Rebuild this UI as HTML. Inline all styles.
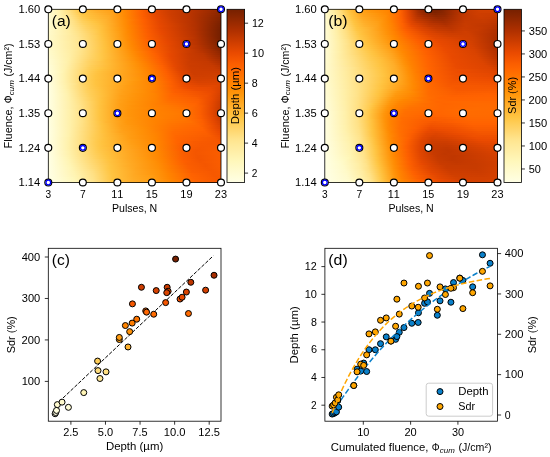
<!DOCTYPE html>
<html><head><meta charset="utf-8"><style>
html,body{margin:0;padding:0;background:#fff;}
svg{display:block;filter:blur(0.35px);}
text{font-family:"Liberation Sans",sans-serif;font-kerning:none;}
</style></head><body>
<svg width="550" height="457" viewBox="0 0 550 457">
<defs><linearGradient id="g1" gradientUnits="userSpaceOnUse" x1="48.30" x2="221.00" y1="0" y2="0"><stop offset="0.000" stop-color="#fffdd7"/><stop offset="0.069" stop-color="#ffefa8"/><stop offset="0.121" stop-color="#ffdd7d"/><stop offset="0.185" stop-color="#ffc441"/><stop offset="0.272" stop-color="#ffad28"/><stop offset="0.376" stop-color="#ff9e14"/><stop offset="0.457" stop-color="#ff8200"/><stop offset="0.538" stop-color="#fe6100"/><stop offset="0.613" stop-color="#e44800"/><stop offset="0.711" stop-color="#cb3c00"/><stop offset="0.855" stop-color="#b23100"/><stop offset="1.000" stop-color="#902700"/></linearGradient>
<linearGradient id="g2" gradientUnits="userSpaceOnUse" x1="48.30" x2="221.00" y1="0" y2="0"><stop offset="0.000" stop-color="#fffcd6"/><stop offset="0.064" stop-color="#fff2ae"/><stop offset="0.116" stop-color="#ffe288"/><stop offset="0.191" stop-color="#ffc542"/><stop offset="0.289" stop-color="#ffae29"/><stop offset="0.370" stop-color="#ffa21a"/><stop offset="0.439" stop-color="#ff8a02"/><stop offset="0.538" stop-color="#fe6100"/><stop offset="0.618" stop-color="#e44800"/><stop offset="0.694" stop-color="#cf3e00"/><stop offset="0.844" stop-color="#b43200"/><stop offset="1.000" stop-color="#8d2600"/></linearGradient>
<linearGradient id="g3" gradientUnits="userSpaceOnUse" x1="48.30" x2="221.00" y1="0" y2="0"><stop offset="0.000" stop-color="#fffcd6"/><stop offset="0.069" stop-color="#fff1ac"/><stop offset="0.127" stop-color="#ffdf82"/><stop offset="0.202" stop-color="#ffc542"/><stop offset="0.306" stop-color="#ffaf2b"/><stop offset="0.370" stop-color="#ffa31c"/><stop offset="0.428" stop-color="#ff8f06"/><stop offset="0.474" stop-color="#ff7c00"/><stop offset="0.543" stop-color="#fd5f00"/><stop offset="0.624" stop-color="#e44800"/><stop offset="0.705" stop-color="#cd3d00"/><stop offset="0.827" stop-color="#b73300"/><stop offset="1.000" stop-color="#892500"/></linearGradient>
<linearGradient id="g4" gradientUnits="userSpaceOnUse" x1="48.30" x2="221.00" y1="0" y2="0"><stop offset="0.000" stop-color="#fffcd5"/><stop offset="0.075" stop-color="#fff0ab"/><stop offset="0.127" stop-color="#ffe288"/><stop offset="0.197" stop-color="#ffc94c"/><stop offset="0.225" stop-color="#ffc23f"/><stop offset="0.353" stop-color="#ffaa24"/><stop offset="0.439" stop-color="#ff8b03"/><stop offset="0.549" stop-color="#fb5e00"/><stop offset="0.624" stop-color="#e64800"/><stop offset="0.711" stop-color="#cd3d00"/><stop offset="0.827" stop-color="#b73300"/><stop offset="1.000" stop-color="#852400"/></linearGradient>
<linearGradient id="g5" gradientUnits="userSpaceOnUse" x1="48.30" x2="221.00" y1="0" y2="0"><stop offset="0.000" stop-color="#fffcd4"/><stop offset="0.075" stop-color="#fff2ae"/><stop offset="0.133" stop-color="#ffe288"/><stop offset="0.197" stop-color="#ffcc53"/><stop offset="0.237" stop-color="#ffc23f"/><stop offset="0.347" stop-color="#ffad28"/><stop offset="0.422" stop-color="#ff9309"/><stop offset="0.462" stop-color="#ff8200"/><stop offset="0.549" stop-color="#fd5f00"/><stop offset="0.630" stop-color="#e64800"/><stop offset="0.717" stop-color="#cd3d00"/><stop offset="0.827" stop-color="#b73300"/><stop offset="1.000" stop-color="#812300"/></linearGradient>
<linearGradient id="g6" gradientUnits="userSpaceOnUse" x1="48.30" x2="221.00" y1="0" y2="0"><stop offset="0.000" stop-color="#fffcd4"/><stop offset="0.087" stop-color="#ffefa8"/><stop offset="0.139" stop-color="#ffe288"/><stop offset="0.202" stop-color="#ffcd56"/><stop offset="0.249" stop-color="#ffc441"/><stop offset="0.335" stop-color="#ffb22e"/><stop offset="0.445" stop-color="#ff8b03"/><stop offset="0.549" stop-color="#fe6100"/><stop offset="0.630" stop-color="#e84900"/><stop offset="0.723" stop-color="#cd3d00"/><stop offset="0.821" stop-color="#b93400"/><stop offset="1.000" stop-color="#7f2300"/></linearGradient>
<linearGradient id="g7" gradientUnits="userSpaceOnUse" x1="48.30" x2="221.00" y1="0" y2="0"><stop offset="0.000" stop-color="#fffcd2"/><stop offset="0.087" stop-color="#fff0ab"/><stop offset="0.150" stop-color="#ffe084"/><stop offset="0.197" stop-color="#ffd15f"/><stop offset="0.266" stop-color="#ffc542"/><stop offset="0.347" stop-color="#ffaf2b"/><stop offset="0.439" stop-color="#ff8e05"/><stop offset="0.486" stop-color="#ff7900"/><stop offset="0.555" stop-color="#fd5f00"/><stop offset="0.642" stop-color="#e44800"/><stop offset="0.746" stop-color="#c93b00"/><stop offset="0.838" stop-color="#b53200"/><stop offset="1.000" stop-color="#7c2100"/></linearGradient>
<linearGradient id="g8" gradientUnits="userSpaceOnUse" x1="48.30" x2="221.00" y1="0" y2="0"><stop offset="0.000" stop-color="#fffbd1"/><stop offset="0.098" stop-color="#ffefa7"/><stop offset="0.162" stop-color="#ffde7f"/><stop offset="0.208" stop-color="#ffd15f"/><stop offset="0.283" stop-color="#ffc441"/><stop offset="0.370" stop-color="#ffa923"/><stop offset="0.439" stop-color="#ff8e05"/><stop offset="0.486" stop-color="#ff7a00"/><stop offset="0.561" stop-color="#fb5e00"/><stop offset="0.642" stop-color="#e64800"/><stop offset="0.763" stop-color="#c73b00"/><stop offset="0.850" stop-color="#b23100"/><stop offset="0.988" stop-color="#7d2200"/><stop offset="1.000" stop-color="#7a2100"/></linearGradient>
<linearGradient id="g9" gradientUnits="userSpaceOnUse" x1="48.30" x2="221.00" y1="0" y2="0"><stop offset="0.000" stop-color="#fffbd0"/><stop offset="0.110" stop-color="#ffeda2"/><stop offset="0.168" stop-color="#ffde7f"/><stop offset="0.220" stop-color="#ffd15f"/><stop offset="0.306" stop-color="#ffc03c"/><stop offset="0.457" stop-color="#ff8800"/><stop offset="0.561" stop-color="#fd5f00"/><stop offset="0.642" stop-color="#e84900"/><stop offset="0.769" stop-color="#c73b00"/><stop offset="0.861" stop-color="#ae3000"/><stop offset="0.983" stop-color="#7d2200"/><stop offset="1.000" stop-color="#782000"/></linearGradient>
<linearGradient id="g10" gradientUnits="userSpaceOnUse" x1="48.30" x2="221.00" y1="0" y2="0"><stop offset="0.000" stop-color="#fffbce"/><stop offset="0.110" stop-color="#ffeda4"/><stop offset="0.168" stop-color="#ffe084"/><stop offset="0.220" stop-color="#ffd264"/><stop offset="0.306" stop-color="#ffc13e"/><stop offset="0.405" stop-color="#ff9e14"/><stop offset="0.462" stop-color="#ff8600"/><stop offset="0.566" stop-color="#fb5e00"/><stop offset="0.647" stop-color="#e64800"/><stop offset="0.844" stop-color="#b53200"/><stop offset="0.994" stop-color="#782000"/><stop offset="1.000" stop-color="#762000"/></linearGradient>
<linearGradient id="g11" gradientUnits="userSpaceOnUse" x1="48.30" x2="221.00" y1="0" y2="0"><stop offset="0.000" stop-color="#fffbcd"/><stop offset="0.121" stop-color="#ffeca0"/><stop offset="0.173" stop-color="#ffe084"/><stop offset="0.225" stop-color="#ffd366"/><stop offset="0.277" stop-color="#ffca4e"/><stop offset="0.306" stop-color="#ffc13e"/><stop offset="0.410" stop-color="#ff9c12"/><stop offset="0.468" stop-color="#ff8500"/><stop offset="0.566" stop-color="#fd5f00"/><stop offset="0.647" stop-color="#e84900"/><stop offset="0.844" stop-color="#b53200"/><stop offset="0.994" stop-color="#762000"/><stop offset="1.000" stop-color="#762000"/></linearGradient>
<linearGradient id="g12" gradientUnits="userSpaceOnUse" x1="48.30" x2="221.00" y1="0" y2="0"><stop offset="0.000" stop-color="#fffacc"/><stop offset="0.121" stop-color="#ffeca1"/><stop offset="0.173" stop-color="#ffe288"/><stop offset="0.225" stop-color="#ffd56b"/><stop offset="0.277" stop-color="#ffcb51"/><stop offset="0.306" stop-color="#ffc23f"/><stop offset="0.410" stop-color="#ff9e14"/><stop offset="0.462" stop-color="#ff8800"/><stop offset="0.572" stop-color="#fb5e00"/><stop offset="0.653" stop-color="#e84900"/><stop offset="0.850" stop-color="#b53200"/><stop offset="0.994" stop-color="#762000"/><stop offset="1.000" stop-color="#762000"/></linearGradient>
<linearGradient id="g13" gradientUnits="userSpaceOnUse" x1="48.30" x2="221.00" y1="0" y2="0"><stop offset="0.000" stop-color="#fffacc"/><stop offset="0.127" stop-color="#ffeca0"/><stop offset="0.179" stop-color="#ffe288"/><stop offset="0.237" stop-color="#ffd469"/><stop offset="0.312" stop-color="#ffc13e"/><stop offset="0.405" stop-color="#ffa118"/><stop offset="0.445" stop-color="#ff8f06"/><stop offset="0.491" stop-color="#ff7d00"/><stop offset="0.572" stop-color="#fd5f00"/><stop offset="0.659" stop-color="#e84900"/><stop offset="0.844" stop-color="#b73300"/><stop offset="0.954" stop-color="#872500"/><stop offset="0.994" stop-color="#762000"/><stop offset="1.000" stop-color="#762000"/></linearGradient>
<linearGradient id="g14" gradientUnits="userSpaceOnUse" x1="48.30" x2="221.00" y1="0" y2="0"><stop offset="0.000" stop-color="#fffaca"/><stop offset="0.156" stop-color="#ffe796"/><stop offset="0.272" stop-color="#ffce58"/><stop offset="0.312" stop-color="#ffc23f"/><stop offset="0.410" stop-color="#ff9f16"/><stop offset="0.451" stop-color="#ff8e05"/><stop offset="0.497" stop-color="#ff7c00"/><stop offset="0.578" stop-color="#fb5e00"/><stop offset="0.682" stop-color="#e24700"/><stop offset="0.850" stop-color="#b73300"/><stop offset="0.960" stop-color="#852400"/><stop offset="0.994" stop-color="#762000"/><stop offset="1.000" stop-color="#762000"/></linearGradient>
<linearGradient id="g15" gradientUnits="userSpaceOnUse" x1="48.30" x2="221.00" y1="0" y2="0"><stop offset="0.000" stop-color="#fffaca"/><stop offset="0.168" stop-color="#ffe693"/><stop offset="0.277" stop-color="#ffcd56"/><stop offset="0.318" stop-color="#ffc13e"/><stop offset="0.405" stop-color="#ffa21a"/><stop offset="0.451" stop-color="#ff8f06"/><stop offset="0.497" stop-color="#ff7d00"/><stop offset="0.578" stop-color="#fd5f00"/><stop offset="0.688" stop-color="#e24700"/><stop offset="0.838" stop-color="#bd3600"/><stop offset="0.948" stop-color="#8d2600"/><stop offset="0.994" stop-color="#762000"/><stop offset="1.000" stop-color="#762000"/></linearGradient>
<linearGradient id="g16" gradientUnits="userSpaceOnUse" x1="48.30" x2="221.00" y1="0" y2="0"><stop offset="0.000" stop-color="#fffac9"/><stop offset="0.156" stop-color="#ffe897"/><stop offset="0.197" stop-color="#ffe186"/><stop offset="0.318" stop-color="#ffc23f"/><stop offset="0.410" stop-color="#ffa118"/><stop offset="0.462" stop-color="#ff8b03"/><stop offset="0.578" stop-color="#fe6100"/><stop offset="0.682" stop-color="#e64800"/><stop offset="0.861" stop-color="#b53200"/><stop offset="0.971" stop-color="#832400"/><stop offset="1.000" stop-color="#762000"/></linearGradient>
<linearGradient id="g17" gradientUnits="userSpaceOnUse" x1="48.30" x2="221.00" y1="0" y2="0"><stop offset="0.000" stop-color="#fffac9"/><stop offset="0.133" stop-color="#ffeca0"/><stop offset="0.202" stop-color="#ffe084"/><stop offset="0.324" stop-color="#ffc13e"/><stop offset="0.416" stop-color="#ff9f16"/><stop offset="0.474" stop-color="#ff8901"/><stop offset="0.590" stop-color="#fb5e00"/><stop offset="0.688" stop-color="#e64800"/><stop offset="0.855" stop-color="#b93400"/><stop offset="0.971" stop-color="#852400"/><stop offset="1.000" stop-color="#762000"/></linearGradient>
<linearGradient id="g18" gradientUnits="userSpaceOnUse" x1="48.30" x2="221.00" y1="0" y2="0"><stop offset="0.000" stop-color="#fffaca"/><stop offset="0.156" stop-color="#ffe999"/><stop offset="0.208" stop-color="#ffdf82"/><stop offset="0.329" stop-color="#ffc03c"/><stop offset="0.422" stop-color="#ff9e14"/><stop offset="0.486" stop-color="#ff8500"/><stop offset="0.595" stop-color="#fb5e00"/><stop offset="0.694" stop-color="#e64800"/><stop offset="0.861" stop-color="#b73300"/><stop offset="0.965" stop-color="#8b2600"/><stop offset="1.000" stop-color="#782000"/></linearGradient>
<linearGradient id="g19" gradientUnits="userSpaceOnUse" x1="48.30" x2="221.00" y1="0" y2="0"><stop offset="0.000" stop-color="#fffaca"/><stop offset="0.156" stop-color="#ffe999"/><stop offset="0.214" stop-color="#ffde7f"/><stop offset="0.324" stop-color="#ffc23f"/><stop offset="0.422" stop-color="#ff9f16"/><stop offset="0.480" stop-color="#ff8901"/><stop offset="0.595" stop-color="#fd5f00"/><stop offset="0.711" stop-color="#e04600"/><stop offset="0.855" stop-color="#bd3600"/><stop offset="0.965" stop-color="#8e2700"/><stop offset="1.000" stop-color="#7c2100"/></linearGradient>
<linearGradient id="g20" gradientUnits="userSpaceOnUse" x1="48.30" x2="221.00" y1="0" y2="0"><stop offset="0.000" stop-color="#fffaca"/><stop offset="0.133" stop-color="#ffeca1"/><stop offset="0.197" stop-color="#ffe288"/><stop offset="0.318" stop-color="#ffc542"/><stop offset="0.428" stop-color="#ff9f16"/><stop offset="0.457" stop-color="#ff9309"/><stop offset="0.503" stop-color="#ff8200"/><stop offset="0.607" stop-color="#fb5e00"/><stop offset="0.711" stop-color="#e24700"/><stop offset="0.884" stop-color="#b53200"/><stop offset="0.994" stop-color="#832400"/><stop offset="1.000" stop-color="#7f2300"/></linearGradient>
<linearGradient id="g21" gradientUnits="userSpaceOnUse" x1="48.30" x2="221.00" y1="0" y2="0"><stop offset="0.000" stop-color="#fffacc"/><stop offset="0.139" stop-color="#ffeca0"/><stop offset="0.191" stop-color="#ffe38b"/><stop offset="0.329" stop-color="#ffc13e"/><stop offset="0.439" stop-color="#ff9c12"/><stop offset="0.497" stop-color="#ff8600"/><stop offset="0.613" stop-color="#fb5e00"/><stop offset="0.705" stop-color="#e44800"/><stop offset="0.850" stop-color="#c23800"/><stop offset="0.931" stop-color="#a72e00"/><stop offset="1.000" stop-color="#852400"/></linearGradient>
<linearGradient id="g22" gradientUnits="userSpaceOnUse" x1="48.30" x2="221.00" y1="0" y2="0"><stop offset="0.000" stop-color="#fffbcd"/><stop offset="0.133" stop-color="#ffeda2"/><stop offset="0.197" stop-color="#ffe186"/><stop offset="0.329" stop-color="#ffc13e"/><stop offset="0.486" stop-color="#ff8d04"/><stop offset="0.590" stop-color="#ff6800"/><stop offset="0.630" stop-color="#f85b00"/><stop offset="0.717" stop-color="#e24700"/><stop offset="0.827" stop-color="#c73b00"/><stop offset="0.890" stop-color="#b93400"/><stop offset="0.971" stop-color="#9a2a00"/><stop offset="1.000" stop-color="#8b2600"/></linearGradient>
<linearGradient id="g23" gradientUnits="userSpaceOnUse" x1="48.30" x2="221.00" y1="0" y2="0"><stop offset="0.000" stop-color="#fffbce"/><stop offset="0.121" stop-color="#ffefa7"/><stop offset="0.185" stop-color="#ffe38b"/><stop offset="0.306" stop-color="#ffc849"/><stop offset="0.474" stop-color="#ff9309"/><stop offset="0.520" stop-color="#ff8200"/><stop offset="0.618" stop-color="#fe6100"/><stop offset="0.699" stop-color="#e84900"/><stop offset="0.815" stop-color="#c93b00"/><stop offset="0.896" stop-color="#bd3600"/><stop offset="0.994" stop-color="#942800"/><stop offset="1.000" stop-color="#902700"/></linearGradient>
<linearGradient id="g24" gradientUnits="userSpaceOnUse" x1="48.30" x2="221.00" y1="0" y2="0"><stop offset="0.000" stop-color="#fffbd0"/><stop offset="0.127" stop-color="#ffeea5"/><stop offset="0.197" stop-color="#ffdf82"/><stop offset="0.306" stop-color="#ffc849"/><stop offset="0.474" stop-color="#ff950a"/><stop offset="0.526" stop-color="#ff8200"/><stop offset="0.630" stop-color="#fd5f00"/><stop offset="0.705" stop-color="#e64800"/><stop offset="0.821" stop-color="#c93b00"/><stop offset="0.902" stop-color="#be3700"/><stop offset="1.000" stop-color="#982900"/></linearGradient>
<linearGradient id="g25" gradientUnits="userSpaceOnUse" x1="48.30" x2="221.00" y1="0" y2="0"><stop offset="0.000" stop-color="#fffbd1"/><stop offset="0.116" stop-color="#fff0a9"/><stop offset="0.185" stop-color="#ffe186"/><stop offset="0.237" stop-color="#ffd56b"/><stop offset="0.301" stop-color="#ffc94c"/><stop offset="0.347" stop-color="#ffbc38"/><stop offset="0.486" stop-color="#ff9309"/><stop offset="0.538" stop-color="#ff8100"/><stop offset="0.636" stop-color="#fd5f00"/><stop offset="0.711" stop-color="#e64800"/><stop offset="0.821" stop-color="#c93b00"/><stop offset="0.908" stop-color="#c03700"/><stop offset="0.994" stop-color="#a12c00"/><stop offset="1.000" stop-color="#9d2b00"/></linearGradient>
<linearGradient id="g26" gradientUnits="userSpaceOnUse" x1="48.30" x2="221.00" y1="0" y2="0"><stop offset="0.000" stop-color="#fffcd4"/><stop offset="0.116" stop-color="#fff0a9"/><stop offset="0.185" stop-color="#ffe084"/><stop offset="0.243" stop-color="#ffd264"/><stop offset="0.295" stop-color="#ffca4e"/><stop offset="0.335" stop-color="#ffbe3b"/><stop offset="0.514" stop-color="#ff8b03"/><stop offset="0.642" stop-color="#fd5f00"/><stop offset="0.717" stop-color="#e44800"/><stop offset="0.827" stop-color="#c93b00"/><stop offset="0.913" stop-color="#c23800"/><stop offset="0.988" stop-color="#aa2f00"/><stop offset="1.000" stop-color="#a52d00"/></linearGradient>
<linearGradient id="g27" gradientUnits="userSpaceOnUse" x1="48.30" x2="221.00" y1="0" y2="0"><stop offset="0.000" stop-color="#fffcd5"/><stop offset="0.104" stop-color="#fff2ae"/><stop offset="0.179" stop-color="#ffe186"/><stop offset="0.231" stop-color="#ffd366"/><stop offset="0.335" stop-color="#ffbe3b"/><stop offset="0.497" stop-color="#ff9309"/><stop offset="0.555" stop-color="#ff8000"/><stop offset="0.647" stop-color="#fd5f00"/><stop offset="0.723" stop-color="#e44800"/><stop offset="0.815" stop-color="#cb3c00"/><stop offset="0.925" stop-color="#c43900"/><stop offset="1.000" stop-color="#ac2f00"/></linearGradient>
<linearGradient id="g28" gradientUnits="userSpaceOnUse" x1="48.30" x2="221.00" y1="0" y2="0"><stop offset="0.000" stop-color="#fffcd6"/><stop offset="0.110" stop-color="#fff0ab"/><stop offset="0.191" stop-color="#ffdc7b"/><stop offset="0.243" stop-color="#ffd15f"/><stop offset="0.341" stop-color="#ffbd3a"/><stop offset="0.497" stop-color="#ff950a"/><stop offset="0.561" stop-color="#ff8100"/><stop offset="0.659" stop-color="#fb5e00"/><stop offset="0.728" stop-color="#e44800"/><stop offset="0.809" stop-color="#cd3d00"/><stop offset="0.942" stop-color="#c43900"/><stop offset="1.000" stop-color="#b23100"/></linearGradient>
<linearGradient id="g29" gradientUnits="userSpaceOnUse" x1="48.30" x2="221.00" y1="0" y2="0"><stop offset="0.000" stop-color="#fffdd9"/><stop offset="0.104" stop-color="#fff1ac"/><stop offset="0.173" stop-color="#ffe084"/><stop offset="0.249" stop-color="#ffce58"/><stop offset="0.353" stop-color="#ffb935"/><stop offset="0.520" stop-color="#ff8f06"/><stop offset="0.578" stop-color="#ff7d00"/><stop offset="0.659" stop-color="#fe6100"/><stop offset="0.728" stop-color="#e64800"/><stop offset="0.821" stop-color="#cb3c00"/><stop offset="0.954" stop-color="#c63a00"/><stop offset="1.000" stop-color="#b93400"/></linearGradient>
<linearGradient id="g30" gradientUnits="userSpaceOnUse" x1="48.30" x2="221.00" y1="0" y2="0"><stop offset="0.000" stop-color="#fffdda"/><stop offset="0.098" stop-color="#fff2ae"/><stop offset="0.173" stop-color="#ffdf82"/><stop offset="0.237" stop-color="#ffcf5a"/><stop offset="0.306" stop-color="#ffc441"/><stop offset="0.497" stop-color="#ff970c"/><stop offset="0.566" stop-color="#ff8400"/><stop offset="0.665" stop-color="#fe6100"/><stop offset="0.746" stop-color="#e04600"/><stop offset="0.821" stop-color="#cd3d00"/><stop offset="0.902" stop-color="#c93b00"/><stop offset="0.954" stop-color="#c93b00"/><stop offset="1.000" stop-color="#be3700"/></linearGradient>
<linearGradient id="g31" gradientUnits="userSpaceOnUse" x1="48.30" x2="221.00" y1="0" y2="0"><stop offset="0.000" stop-color="#fffddb"/><stop offset="0.092" stop-color="#fff3b0"/><stop offset="0.173" stop-color="#ffde7f"/><stop offset="0.237" stop-color="#ffce58"/><stop offset="0.289" stop-color="#ffc542"/><stop offset="0.538" stop-color="#ff8e05"/><stop offset="0.601" stop-color="#ff7a00"/><stop offset="0.676" stop-color="#fd5f00"/><stop offset="0.751" stop-color="#e04600"/><stop offset="0.827" stop-color="#cd3d00"/><stop offset="0.913" stop-color="#cb3c00"/><stop offset="0.977" stop-color="#c93b00"/><stop offset="1.000" stop-color="#c43900"/></linearGradient>
<linearGradient id="g32" gradientUnits="userSpaceOnUse" x1="48.30" x2="221.00" y1="0" y2="0"><stop offset="0.000" stop-color="#fffedd"/><stop offset="0.081" stop-color="#fff5b6"/><stop offset="0.168" stop-color="#ffdf82"/><stop offset="0.231" stop-color="#ffce58"/><stop offset="0.289" stop-color="#ffc23f"/><stop offset="0.532" stop-color="#ff9107"/><stop offset="0.590" stop-color="#ff8000"/><stop offset="0.682" stop-color="#fd5f00"/><stop offset="0.757" stop-color="#e24700"/><stop offset="0.832" stop-color="#cd3d00"/><stop offset="0.936" stop-color="#cd3d00"/><stop offset="0.994" stop-color="#cb3c00"/><stop offset="1.000" stop-color="#c93b00"/></linearGradient>
<linearGradient id="g33" gradientUnits="userSpaceOnUse" x1="48.30" x2="221.00" y1="0" y2="0"><stop offset="0.000" stop-color="#fffede"/><stop offset="0.092" stop-color="#fff2ae"/><stop offset="0.162" stop-color="#ffe084"/><stop offset="0.237" stop-color="#ffcc53"/><stop offset="0.283" stop-color="#ffc23f"/><stop offset="0.462" stop-color="#ff9f16"/><stop offset="0.584" stop-color="#ff8400"/><stop offset="0.688" stop-color="#fd5f00"/><stop offset="0.769" stop-color="#e04600"/><stop offset="0.844" stop-color="#cd3d00"/><stop offset="0.948" stop-color="#cf3e00"/><stop offset="1.000" stop-color="#cf3e00"/></linearGradient>
<linearGradient id="g34" gradientUnits="userSpaceOnUse" x1="48.30" x2="221.00" y1="0" y2="0"><stop offset="0.000" stop-color="#fffedf"/><stop offset="0.092" stop-color="#fff2ae"/><stop offset="0.168" stop-color="#ffde7f"/><stop offset="0.225" stop-color="#ffce58"/><stop offset="0.272" stop-color="#ffc441"/><stop offset="0.561" stop-color="#ff8b03"/><stop offset="0.694" stop-color="#fd5f00"/><stop offset="0.780" stop-color="#df4500"/><stop offset="0.850" stop-color="#cf3e00"/><stop offset="0.954" stop-color="#d03f00"/><stop offset="1.000" stop-color="#d24000"/></linearGradient>
<linearGradient id="g35" gradientUnits="userSpaceOnUse" x1="48.30" x2="221.00" y1="0" y2="0"><stop offset="0.000" stop-color="#fffee1"/><stop offset="0.092" stop-color="#fff2ae"/><stop offset="0.168" stop-color="#ffde7f"/><stop offset="0.220" stop-color="#ffcf5a"/><stop offset="0.272" stop-color="#ffc441"/><stop offset="0.520" stop-color="#ff950a"/><stop offset="0.607" stop-color="#ff8000"/><stop offset="0.699" stop-color="#fd5f00"/><stop offset="0.786" stop-color="#e04600"/><stop offset="0.844" stop-color="#d24000"/><stop offset="0.948" stop-color="#d24000"/><stop offset="1.000" stop-color="#d64100"/></linearGradient>
<linearGradient id="g36" gradientUnits="userSpaceOnUse" x1="48.30" x2="221.00" y1="0" y2="0"><stop offset="0.000" stop-color="#ffffe2"/><stop offset="0.092" stop-color="#fff2ae"/><stop offset="0.168" stop-color="#ffde7f"/><stop offset="0.231" stop-color="#ffcc53"/><stop offset="0.277" stop-color="#ffc23f"/><stop offset="0.520" stop-color="#ff960b"/><stop offset="0.607" stop-color="#ff8100"/><stop offset="0.705" stop-color="#fd5f00"/><stop offset="0.792" stop-color="#e04600"/><stop offset="0.861" stop-color="#d44000"/><stop offset="1.000" stop-color="#d84200"/></linearGradient>
<linearGradient id="g37" gradientUnits="userSpaceOnUse" x1="48.30" x2="221.00" y1="0" y2="0"><stop offset="0.000" stop-color="#ffffe2"/><stop offset="0.098" stop-color="#fff0ab"/><stop offset="0.168" stop-color="#ffde7f"/><stop offset="0.220" stop-color="#ffcf5a"/><stop offset="0.272" stop-color="#ffc441"/><stop offset="0.497" stop-color="#ff980d"/><stop offset="0.613" stop-color="#ff8100"/><stop offset="0.705" stop-color="#fe6100"/><stop offset="0.786" stop-color="#e64800"/><stop offset="0.867" stop-color="#d84200"/><stop offset="1.000" stop-color="#d94300"/></linearGradient>
<linearGradient id="g38" gradientUnits="userSpaceOnUse" x1="48.30" x2="221.00" y1="0" y2="0"><stop offset="0.000" stop-color="#ffffe2"/><stop offset="0.098" stop-color="#fff1ac"/><stop offset="0.156" stop-color="#ffe38b"/><stop offset="0.208" stop-color="#ffd162"/><stop offset="0.272" stop-color="#ffc441"/><stop offset="0.486" stop-color="#ff9a0e"/><stop offset="0.613" stop-color="#ff8200"/><stop offset="0.717" stop-color="#fb5e00"/><stop offset="0.792" stop-color="#e94a00"/><stop offset="0.873" stop-color="#dd4400"/><stop offset="0.983" stop-color="#dd4400"/><stop offset="1.000" stop-color="#d94300"/></linearGradient>
<linearGradient id="g39" gradientUnits="userSpaceOnUse" x1="48.30" x2="221.00" y1="0" y2="0"><stop offset="0.000" stop-color="#ffffe3"/><stop offset="0.098" stop-color="#fff2ae"/><stop offset="0.173" stop-color="#ffdd7d"/><stop offset="0.231" stop-color="#ffcd56"/><stop offset="0.283" stop-color="#ffc23f"/><stop offset="0.462" stop-color="#ff9c12"/><stop offset="0.607" stop-color="#ff8500"/><stop offset="0.711" stop-color="#fe6100"/><stop offset="0.786" stop-color="#ed4d00"/><stop offset="0.884" stop-color="#e24700"/><stop offset="0.965" stop-color="#e24700"/><stop offset="1.000" stop-color="#d94300"/></linearGradient>
<linearGradient id="g40" gradientUnits="userSpaceOnUse" x1="48.30" x2="221.00" y1="0" y2="0"><stop offset="0.000" stop-color="#ffffe3"/><stop offset="0.098" stop-color="#fff2af"/><stop offset="0.179" stop-color="#ffdc7b"/><stop offset="0.243" stop-color="#ffcb51"/><stop offset="0.306" stop-color="#ffbe3b"/><stop offset="0.451" stop-color="#ff9e14"/><stop offset="0.607" stop-color="#ff8500"/><stop offset="0.723" stop-color="#fb5e00"/><stop offset="0.809" stop-color="#ed4d00"/><stop offset="0.936" stop-color="#e84900"/><stop offset="1.000" stop-color="#d94300"/></linearGradient>
<linearGradient id="g41" gradientUnits="userSpaceOnUse" x1="48.30" x2="221.00" y1="0" y2="0"><stop offset="0.000" stop-color="#ffffe3"/><stop offset="0.104" stop-color="#fff2ae"/><stop offset="0.185" stop-color="#ffdb79"/><stop offset="0.225" stop-color="#ffd05d"/><stop offset="0.295" stop-color="#ffc23f"/><stop offset="0.422" stop-color="#ffa21a"/><stop offset="0.509" stop-color="#ff950a"/><stop offset="0.618" stop-color="#ff8200"/><stop offset="0.723" stop-color="#fd5f00"/><stop offset="0.855" stop-color="#ed4d00"/><stop offset="0.942" stop-color="#e94a00"/><stop offset="1.000" stop-color="#d84200"/></linearGradient>
<linearGradient id="g42" gradientUnits="userSpaceOnUse" x1="48.30" x2="221.00" y1="0" y2="0"><stop offset="0.000" stop-color="#ffffe3"/><stop offset="0.110" stop-color="#fff1ac"/><stop offset="0.185" stop-color="#ffdc7b"/><stop offset="0.225" stop-color="#ffd15f"/><stop offset="0.312" stop-color="#ffbe3b"/><stop offset="0.434" stop-color="#ff9f16"/><stop offset="0.555" stop-color="#ff8e05"/><stop offset="0.647" stop-color="#ff7900"/><stop offset="0.734" stop-color="#fb5e00"/><stop offset="0.884" stop-color="#f05100"/><stop offset="0.954" stop-color="#e84900"/><stop offset="1.000" stop-color="#d64100"/></linearGradient>
<linearGradient id="g43" gradientUnits="userSpaceOnUse" x1="48.30" x2="221.00" y1="0" y2="0"><stop offset="0.000" stop-color="#ffffe3"/><stop offset="0.110" stop-color="#fff2ae"/><stop offset="0.191" stop-color="#ffdb79"/><stop offset="0.243" stop-color="#ffce58"/><stop offset="0.301" stop-color="#ffc23f"/><stop offset="0.416" stop-color="#ffa21a"/><stop offset="0.497" stop-color="#ff950a"/><stop offset="0.613" stop-color="#ff8400"/><stop offset="0.723" stop-color="#ff6300"/><stop offset="0.936" stop-color="#ed4d00"/><stop offset="1.000" stop-color="#d44000"/></linearGradient>
<linearGradient id="g44" gradientUnits="userSpaceOnUse" x1="48.30" x2="221.00" y1="0" y2="0"><stop offset="0.000" stop-color="#ffffe3"/><stop offset="0.110" stop-color="#fff2af"/><stop offset="0.191" stop-color="#ffdc7b"/><stop offset="0.243" stop-color="#ffcf5a"/><stop offset="0.324" stop-color="#ffbc38"/><stop offset="0.422" stop-color="#ff9f16"/><stop offset="0.543" stop-color="#ff8e05"/><stop offset="0.624" stop-color="#ff8100"/><stop offset="0.705" stop-color="#ff6800"/><stop offset="0.821" stop-color="#f95c00"/><stop offset="0.919" stop-color="#f05100"/><stop offset="0.971" stop-color="#df4500"/><stop offset="1.000" stop-color="#d03f00"/></linearGradient>
<linearGradient id="g45" gradientUnits="userSpaceOnUse" x1="48.30" x2="221.00" y1="0" y2="0"><stop offset="0.000" stop-color="#ffffe3"/><stop offset="0.116" stop-color="#fff1ac"/><stop offset="0.185" stop-color="#ffdf82"/><stop offset="0.249" stop-color="#ffcf5a"/><stop offset="0.312" stop-color="#ffbe3b"/><stop offset="0.416" stop-color="#ffa118"/><stop offset="0.474" stop-color="#ff970c"/><stop offset="0.618" stop-color="#ff8200"/><stop offset="0.705" stop-color="#ff6a00"/><stop offset="0.855" stop-color="#fa5d00"/><stop offset="0.942" stop-color="#eb4b00"/><stop offset="1.000" stop-color="#cf3e00"/></linearGradient>
<linearGradient id="g46" gradientUnits="userSpaceOnUse" x1="48.30" x2="221.00" y1="0" y2="0"><stop offset="0.000" stop-color="#ffffe3"/><stop offset="0.116" stop-color="#fff1ac"/><stop offset="0.179" stop-color="#ffe288"/><stop offset="0.231" stop-color="#ffd366"/><stop offset="0.301" stop-color="#ffc23f"/><stop offset="0.416" stop-color="#ff9f16"/><stop offset="0.486" stop-color="#ff950a"/><stop offset="0.618" stop-color="#ff8200"/><stop offset="0.699" stop-color="#ff6d00"/><stop offset="0.867" stop-color="#fb5e00"/><stop offset="0.948" stop-color="#e84900"/><stop offset="1.000" stop-color="#cd3d00"/></linearGradient>
<linearGradient id="g47" gradientUnits="userSpaceOnUse" x1="48.30" x2="221.00" y1="0" y2="0"><stop offset="0.000" stop-color="#ffffe3"/><stop offset="0.121" stop-color="#fff0ab"/><stop offset="0.185" stop-color="#ffe186"/><stop offset="0.249" stop-color="#ffd15f"/><stop offset="0.306" stop-color="#ffc03c"/><stop offset="0.410" stop-color="#ffa118"/><stop offset="0.468" stop-color="#ff960b"/><stop offset="0.618" stop-color="#ff8100"/><stop offset="0.694" stop-color="#ff7100"/><stop offset="0.867" stop-color="#fd5f00"/><stop offset="0.948" stop-color="#e64800"/><stop offset="1.000" stop-color="#c93b00"/></linearGradient>
<linearGradient id="g48" gradientUnits="userSpaceOnUse" x1="48.30" x2="221.00" y1="0" y2="0"><stop offset="0.000" stop-color="#ffffe3"/><stop offset="0.121" stop-color="#fff0ab"/><stop offset="0.185" stop-color="#ffe288"/><stop offset="0.301" stop-color="#ffc23f"/><stop offset="0.416" stop-color="#ff9e14"/><stop offset="0.520" stop-color="#ff8f06"/><stop offset="0.630" stop-color="#ff7e00"/><stop offset="0.699" stop-color="#ff7400"/><stop offset="0.855" stop-color="#ff6300"/><stop offset="0.942" stop-color="#e84900"/><stop offset="1.000" stop-color="#c73b00"/></linearGradient>
<linearGradient id="g49" gradientUnits="userSpaceOnUse" x1="48.30" x2="221.00" y1="0" y2="0"><stop offset="0.000" stop-color="#ffffe3"/><stop offset="0.121" stop-color="#fff0ab"/><stop offset="0.185" stop-color="#ffe38b"/><stop offset="0.301" stop-color="#ffc13e"/><stop offset="0.416" stop-color="#ff9e14"/><stop offset="0.480" stop-color="#ff9309"/><stop offset="0.624" stop-color="#ff8000"/><stop offset="0.699" stop-color="#ff7800"/><stop offset="0.844" stop-color="#ff6600"/><stop offset="0.890" stop-color="#f85b00"/><stop offset="0.954" stop-color="#e04600"/><stop offset="1.000" stop-color="#c63a00"/></linearGradient>
<linearGradient id="g50" gradientUnits="userSpaceOnUse" x1="48.30" x2="221.00" y1="0" y2="0"><stop offset="0.000" stop-color="#ffffe3"/><stop offset="0.121" stop-color="#fff0ab"/><stop offset="0.197" stop-color="#ffe084"/><stop offset="0.301" stop-color="#ffc13e"/><stop offset="0.410" stop-color="#ff9f16"/><stop offset="0.462" stop-color="#ff960b"/><stop offset="0.607" stop-color="#ff8400"/><stop offset="0.676" stop-color="#ff7c00"/><stop offset="0.798" stop-color="#ff7000"/><stop offset="0.879" stop-color="#fb5e00"/><stop offset="0.942" stop-color="#e64800"/><stop offset="1.000" stop-color="#c43900"/></linearGradient>
<linearGradient id="g51" gradientUnits="userSpaceOnUse" x1="48.30" x2="221.00" y1="0" y2="0"><stop offset="0.000" stop-color="#ffffe3"/><stop offset="0.127" stop-color="#fff0a9"/><stop offset="0.202" stop-color="#ffdf82"/><stop offset="0.295" stop-color="#ffc441"/><stop offset="0.399" stop-color="#ffa21a"/><stop offset="0.462" stop-color="#ff950a"/><stop offset="0.618" stop-color="#ff8100"/><stop offset="0.780" stop-color="#ff7500"/><stop offset="0.879" stop-color="#fb5e00"/><stop offset="0.948" stop-color="#e24700"/><stop offset="1.000" stop-color="#c43900"/></linearGradient>
<linearGradient id="g52" gradientUnits="userSpaceOnUse" x1="48.30" x2="221.00" y1="0" y2="0"><stop offset="0.000" stop-color="#ffffe3"/><stop offset="0.127" stop-color="#fff0a9"/><stop offset="0.197" stop-color="#ffe186"/><stop offset="0.295" stop-color="#ffc441"/><stop offset="0.399" stop-color="#ffa21a"/><stop offset="0.462" stop-color="#ff950a"/><stop offset="0.618" stop-color="#ff8200"/><stop offset="0.786" stop-color="#ff7600"/><stop offset="0.879" stop-color="#fb5e00"/><stop offset="0.948" stop-color="#e24700"/><stop offset="1.000" stop-color="#c43900"/></linearGradient>
<linearGradient id="g53" gradientUnits="userSpaceOnUse" x1="48.30" x2="221.00" y1="0" y2="0"><stop offset="0.000" stop-color="#ffffe3"/><stop offset="0.127" stop-color="#fff0a9"/><stop offset="0.197" stop-color="#ffe186"/><stop offset="0.295" stop-color="#ffc441"/><stop offset="0.410" stop-color="#ff9f16"/><stop offset="0.462" stop-color="#ff950a"/><stop offset="0.618" stop-color="#ff8200"/><stop offset="0.780" stop-color="#ff7800"/><stop offset="0.879" stop-color="#fb5e00"/><stop offset="0.942" stop-color="#e64800"/><stop offset="1.000" stop-color="#c43900"/></linearGradient>
<linearGradient id="g54" gradientUnits="userSpaceOnUse" x1="48.30" x2="221.00" y1="0" y2="0"><stop offset="0.000" stop-color="#ffffe2"/><stop offset="0.127" stop-color="#fff0a9"/><stop offset="0.202" stop-color="#ffe084"/><stop offset="0.295" stop-color="#ffc441"/><stop offset="0.410" stop-color="#ff9f16"/><stop offset="0.462" stop-color="#ff950a"/><stop offset="0.618" stop-color="#ff8200"/><stop offset="0.786" stop-color="#ff7600"/><stop offset="0.879" stop-color="#fd5f00"/><stop offset="0.948" stop-color="#e44800"/><stop offset="1.000" stop-color="#c63a00"/></linearGradient>
<linearGradient id="g55" gradientUnits="userSpaceOnUse" x1="48.30" x2="221.00" y1="0" y2="0"><stop offset="0.000" stop-color="#ffffe2"/><stop offset="0.127" stop-color="#fff0a9"/><stop offset="0.197" stop-color="#ffe186"/><stop offset="0.301" stop-color="#ffc23f"/><stop offset="0.416" stop-color="#ff9e14"/><stop offset="0.520" stop-color="#ff8e05"/><stop offset="0.682" stop-color="#ff7d00"/><stop offset="0.798" stop-color="#ff7400"/><stop offset="0.884" stop-color="#fb5e00"/><stop offset="0.954" stop-color="#e44800"/><stop offset="1.000" stop-color="#c93b00"/></linearGradient>
<linearGradient id="g56" gradientUnits="userSpaceOnUse" x1="48.30" x2="221.00" y1="0" y2="0"><stop offset="0.000" stop-color="#ffffe2"/><stop offset="0.127" stop-color="#fff0a9"/><stop offset="0.197" stop-color="#ffe186"/><stop offset="0.301" stop-color="#ffc23f"/><stop offset="0.410" stop-color="#ffa118"/><stop offset="0.462" stop-color="#ff960b"/><stop offset="0.618" stop-color="#ff8200"/><stop offset="0.694" stop-color="#ff7a00"/><stop offset="0.792" stop-color="#ff7400"/><stop offset="0.884" stop-color="#fe6100"/><stop offset="0.954" stop-color="#e64800"/><stop offset="1.000" stop-color="#cb3c00"/></linearGradient>
<linearGradient id="g57" gradientUnits="userSpaceOnUse" x1="48.30" x2="221.00" y1="0" y2="0"><stop offset="0.000" stop-color="#ffffe2"/><stop offset="0.127" stop-color="#fff0a9"/><stop offset="0.197" stop-color="#ffe186"/><stop offset="0.283" stop-color="#ffc94c"/><stop offset="0.335" stop-color="#ffb632"/><stop offset="0.451" stop-color="#ff980d"/><stop offset="0.618" stop-color="#ff8200"/><stop offset="0.699" stop-color="#ff7800"/><stop offset="0.827" stop-color="#ff6f00"/><stop offset="0.896" stop-color="#fb5e00"/><stop offset="0.965" stop-color="#e24700"/><stop offset="1.000" stop-color="#cf3e00"/></linearGradient>
<linearGradient id="g58" gradientUnits="userSpaceOnUse" x1="48.30" x2="221.00" y1="0" y2="0"><stop offset="0.000" stop-color="#ffffe2"/><stop offset="0.127" stop-color="#fff0a9"/><stop offset="0.191" stop-color="#ffe288"/><stop offset="0.306" stop-color="#ffc23f"/><stop offset="0.405" stop-color="#ffa31c"/><stop offset="0.457" stop-color="#ff980d"/><stop offset="0.624" stop-color="#ff8100"/><stop offset="0.705" stop-color="#ff7500"/><stop offset="0.850" stop-color="#ff6a00"/><stop offset="0.896" stop-color="#fd5f00"/><stop offset="0.965" stop-color="#e64800"/><stop offset="1.000" stop-color="#d24000"/></linearGradient>
<linearGradient id="g59" gradientUnits="userSpaceOnUse" x1="48.30" x2="221.00" y1="0" y2="0"><stop offset="0.000" stop-color="#ffffe2"/><stop offset="0.127" stop-color="#fff0a9"/><stop offset="0.197" stop-color="#ffe084"/><stop offset="0.312" stop-color="#ffc13e"/><stop offset="0.422" stop-color="#ff9f16"/><stop offset="0.532" stop-color="#ff8f06"/><stop offset="0.647" stop-color="#ff7c00"/><stop offset="0.717" stop-color="#ff7200"/><stop offset="0.873" stop-color="#ff6600"/><stop offset="0.931" stop-color="#f45600"/><stop offset="0.983" stop-color="#e04600"/><stop offset="1.000" stop-color="#d84200"/></linearGradient>
<linearGradient id="g60" gradientUnits="userSpaceOnUse" x1="48.30" x2="221.00" y1="0" y2="0"><stop offset="0.000" stop-color="#ffffe3"/><stop offset="0.121" stop-color="#fff1ac"/><stop offset="0.202" stop-color="#ffde7f"/><stop offset="0.312" stop-color="#ffc13e"/><stop offset="0.428" stop-color="#ff9f16"/><stop offset="0.555" stop-color="#ff8d04"/><stop offset="0.642" stop-color="#ff7d00"/><stop offset="0.717" stop-color="#ff7000"/><stop offset="0.890" stop-color="#ff6300"/><stop offset="0.977" stop-color="#e64800"/><stop offset="1.000" stop-color="#db4400"/></linearGradient>
<linearGradient id="g61" gradientUnits="userSpaceOnUse" x1="48.30" x2="221.00" y1="0" y2="0"><stop offset="0.000" stop-color="#ffffe3"/><stop offset="0.121" stop-color="#fff1ac"/><stop offset="0.197" stop-color="#ffdf82"/><stop offset="0.318" stop-color="#ffc03c"/><stop offset="0.434" stop-color="#ff9f16"/><stop offset="0.555" stop-color="#ff8e05"/><stop offset="0.659" stop-color="#ff7900"/><stop offset="0.734" stop-color="#ff6c00"/><stop offset="0.896" stop-color="#ff6200"/><stop offset="0.988" stop-color="#e64800"/><stop offset="1.000" stop-color="#e04600"/></linearGradient>
<linearGradient id="g62" gradientUnits="userSpaceOnUse" x1="48.30" x2="221.00" y1="0" y2="0"><stop offset="0.000" stop-color="#ffffe3"/><stop offset="0.121" stop-color="#fff1ac"/><stop offset="0.202" stop-color="#ffdd7d"/><stop offset="0.312" stop-color="#ffc23f"/><stop offset="0.416" stop-color="#ffa31c"/><stop offset="0.538" stop-color="#ff9107"/><stop offset="0.642" stop-color="#ff7e00"/><stop offset="0.723" stop-color="#ff6b00"/><stop offset="0.908" stop-color="#fd5f00"/><stop offset="0.994" stop-color="#e84900"/><stop offset="1.000" stop-color="#e44800"/></linearGradient>
<linearGradient id="g63" gradientUnits="userSpaceOnUse" x1="48.30" x2="221.00" y1="0" y2="0"><stop offset="0.000" stop-color="#ffffe3"/><stop offset="0.116" stop-color="#fff2ae"/><stop offset="0.191" stop-color="#ffe084"/><stop offset="0.277" stop-color="#ffcb51"/><stop offset="0.335" stop-color="#ffbc38"/><stop offset="0.439" stop-color="#ffa118"/><stop offset="0.526" stop-color="#ff9309"/><stop offset="0.630" stop-color="#ff8200"/><stop offset="0.723" stop-color="#ff6a00"/><stop offset="0.919" stop-color="#fb5e00"/><stop offset="1.000" stop-color="#e94a00"/></linearGradient>
<linearGradient id="g64" gradientUnits="userSpaceOnUse" x1="48.30" x2="221.00" y1="0" y2="0"><stop offset="0.000" stop-color="#ffffe3"/><stop offset="0.116" stop-color="#fff2ae"/><stop offset="0.197" stop-color="#ffde7f"/><stop offset="0.272" stop-color="#ffcc53"/><stop offset="0.335" stop-color="#ffbc38"/><stop offset="0.462" stop-color="#ff9e14"/><stop offset="0.618" stop-color="#ff8500"/><stop offset="0.740" stop-color="#ff6600"/><stop offset="0.936" stop-color="#f95c00"/><stop offset="1.000" stop-color="#ed4d00"/></linearGradient>
<linearGradient id="g65" gradientUnits="userSpaceOnUse" x1="48.30" x2="221.00" y1="0" y2="0"><stop offset="0.000" stop-color="#ffffe3"/><stop offset="0.116" stop-color="#fff1ac"/><stop offset="0.197" stop-color="#ffde7f"/><stop offset="0.260" stop-color="#ffce58"/><stop offset="0.324" stop-color="#ffc03c"/><stop offset="0.474" stop-color="#ff9c12"/><stop offset="0.618" stop-color="#ff8600"/><stop offset="0.740" stop-color="#ff6500"/><stop offset="0.960" stop-color="#f65800"/><stop offset="1.000" stop-color="#ef5000"/></linearGradient>
<linearGradient id="g66" gradientUnits="userSpaceOnUse" x1="48.30" x2="221.00" y1="0" y2="0"><stop offset="0.000" stop-color="#ffffe3"/><stop offset="0.116" stop-color="#fff1ac"/><stop offset="0.191" stop-color="#ffdf82"/><stop offset="0.283" stop-color="#ffc94c"/><stop offset="0.318" stop-color="#ffc13e"/><stop offset="0.457" stop-color="#ffa118"/><stop offset="0.618" stop-color="#ff8600"/><stop offset="0.751" stop-color="#ff6300"/><stop offset="0.977" stop-color="#f55700"/><stop offset="1.000" stop-color="#f15200"/></linearGradient>
<linearGradient id="g67" gradientUnits="userSpaceOnUse" x1="48.30" x2="221.00" y1="0" y2="0"><stop offset="0.000" stop-color="#ffffe3"/><stop offset="0.110" stop-color="#fff2ae"/><stop offset="0.185" stop-color="#ffe186"/><stop offset="0.277" stop-color="#ffca4e"/><stop offset="0.312" stop-color="#ffc23f"/><stop offset="0.480" stop-color="#ff9e14"/><stop offset="0.618" stop-color="#ff8800"/><stop offset="0.740" stop-color="#ff6500"/><stop offset="0.844" stop-color="#f85b00"/><stop offset="0.988" stop-color="#f55700"/><stop offset="1.000" stop-color="#f35500"/></linearGradient>
<linearGradient id="g68" gradientUnits="userSpaceOnUse" x1="48.30" x2="221.00" y1="0" y2="0"><stop offset="0.000" stop-color="#ffffe5"/><stop offset="0.110" stop-color="#fff2ae"/><stop offset="0.185" stop-color="#ffe186"/><stop offset="0.260" stop-color="#ffce58"/><stop offset="0.306" stop-color="#ffc441"/><stop offset="0.480" stop-color="#ff9f16"/><stop offset="0.618" stop-color="#ff8800"/><stop offset="0.757" stop-color="#fe6100"/><stop offset="0.873" stop-color="#f75900"/><stop offset="1.000" stop-color="#f55700"/></linearGradient>
<linearGradient id="g69" gradientUnits="userSpaceOnUse" x1="48.30" x2="221.00" y1="0" y2="0"><stop offset="0.000" stop-color="#ffffe5"/><stop offset="0.110" stop-color="#fff2ae"/><stop offset="0.185" stop-color="#ffe186"/><stop offset="0.283" stop-color="#ffc94c"/><stop offset="0.329" stop-color="#ffbe3b"/><stop offset="0.509" stop-color="#ff9c12"/><stop offset="0.630" stop-color="#ff8500"/><stop offset="0.769" stop-color="#fb5e00"/><stop offset="0.884" stop-color="#f65800"/><stop offset="1.000" stop-color="#f75900"/></linearGradient>
<linearGradient id="g70" gradientUnits="userSpaceOnUse" x1="48.30" x2="221.00" y1="0" y2="0"><stop offset="0.000" stop-color="#ffffe5"/><stop offset="0.110" stop-color="#fff2ae"/><stop offset="0.197" stop-color="#ffde7f"/><stop offset="0.301" stop-color="#ffc644"/><stop offset="0.480" stop-color="#ffa21a"/><stop offset="0.618" stop-color="#ff8901"/><stop offset="0.769" stop-color="#fb5e00"/><stop offset="0.873" stop-color="#f55700"/><stop offset="1.000" stop-color="#f85b00"/></linearGradient>
<linearGradient id="g71" gradientUnits="userSpaceOnUse" x1="48.30" x2="221.00" y1="0" y2="0"><stop offset="0.000" stop-color="#ffffe5"/><stop offset="0.116" stop-color="#fff1ac"/><stop offset="0.197" stop-color="#ffdf82"/><stop offset="0.289" stop-color="#ffc94c"/><stop offset="0.370" stop-color="#ffb734"/><stop offset="0.618" stop-color="#ff8a02"/><stop offset="0.763" stop-color="#fd5f00"/><stop offset="0.861" stop-color="#f45600"/><stop offset="1.000" stop-color="#f95c00"/></linearGradient>
<linearGradient id="g72" gradientUnits="userSpaceOnUse" x1="48.30" x2="221.00" y1="0" y2="0"><stop offset="0.000" stop-color="#ffffe5"/><stop offset="0.116" stop-color="#fff2ae"/><stop offset="0.191" stop-color="#ffe186"/><stop offset="0.289" stop-color="#ffca4e"/><stop offset="0.353" stop-color="#ffbd3a"/><stop offset="0.486" stop-color="#ffa31c"/><stop offset="0.630" stop-color="#ff8800"/><stop offset="0.775" stop-color="#fb5e00"/><stop offset="0.855" stop-color="#f45600"/><stop offset="1.000" stop-color="#fa5d00"/></linearGradient>
<linearGradient id="g73" gradientUnits="userSpaceOnUse" x1="48.30" x2="221.00" y1="0" y2="0"><stop offset="0.000" stop-color="#ffffe5"/><stop offset="0.121" stop-color="#fff1ac"/><stop offset="0.202" stop-color="#ffdf82"/><stop offset="0.272" stop-color="#ffcf5a"/><stop offset="0.335" stop-color="#ffc23f"/><stop offset="0.474" stop-color="#ffa620"/><stop offset="0.630" stop-color="#ff8901"/><stop offset="0.775" stop-color="#fb5e00"/><stop offset="0.855" stop-color="#f45600"/><stop offset="1.000" stop-color="#fa5d00"/></linearGradient>
<linearGradient id="g74" gradientUnits="userSpaceOnUse" x1="48.30" x2="221.00" y1="0" y2="0"><stop offset="0.000" stop-color="#ffffe5"/><stop offset="0.121" stop-color="#fff2ae"/><stop offset="0.214" stop-color="#ffdd7d"/><stop offset="0.283" stop-color="#ffce58"/><stop offset="0.341" stop-color="#ffc23f"/><stop offset="0.462" stop-color="#ffa923"/><stop offset="0.630" stop-color="#ff8901"/><stop offset="0.780" stop-color="#fb5e00"/><stop offset="0.867" stop-color="#f35500"/><stop offset="1.000" stop-color="#fa5d00"/></linearGradient>
<linearGradient id="g75" gradientUnits="userSpaceOnUse" x1="48.30" x2="221.00" y1="0" y2="0"><stop offset="0.000" stop-color="#ffffe5"/><stop offset="0.110" stop-color="#fff5b5"/><stop offset="0.208" stop-color="#ffe084"/><stop offset="0.283" stop-color="#ffcf5a"/><stop offset="0.347" stop-color="#ffc23f"/><stop offset="0.451" stop-color="#ffab26"/><stop offset="0.549" stop-color="#ff9b10"/><stop offset="0.659" stop-color="#ff8200"/><stop offset="0.775" stop-color="#fd5f00"/><stop offset="0.867" stop-color="#f35500"/><stop offset="1.000" stop-color="#fa5d00"/></linearGradient>
<linearGradient id="g76" gradientUnits="userSpaceOnUse" x1="48.30" x2="221.00" y1="0" y2="0"><stop offset="0.000" stop-color="#ffffe5"/><stop offset="0.121" stop-color="#fff4b2"/><stop offset="0.220" stop-color="#ffde7f"/><stop offset="0.347" stop-color="#ffc441"/><stop offset="0.457" stop-color="#ffab26"/><stop offset="0.595" stop-color="#ff9309"/><stop offset="0.665" stop-color="#ff8200"/><stop offset="0.780" stop-color="#fd5f00"/><stop offset="0.879" stop-color="#f35500"/><stop offset="1.000" stop-color="#fa5d00"/></linearGradient>
<linearGradient id="g77" gradientUnits="userSpaceOnUse" x1="48.30" x2="221.00" y1="0" y2="0"><stop offset="0.000" stop-color="#ffffe5"/><stop offset="0.116" stop-color="#fff5b6"/><stop offset="0.225" stop-color="#ffde7f"/><stop offset="0.358" stop-color="#ffc13e"/><stop offset="0.468" stop-color="#ffaa24"/><stop offset="0.613" stop-color="#ff9107"/><stop offset="0.671" stop-color="#ff8100"/><stop offset="0.786" stop-color="#fd5f00"/><stop offset="0.879" stop-color="#f45600"/><stop offset="1.000" stop-color="#fa5d00"/></linearGradient>
<linearGradient id="g78" gradientUnits="userSpaceOnUse" x1="48.30" x2="221.00" y1="0" y2="0"><stop offset="0.000" stop-color="#ffffe5"/><stop offset="0.127" stop-color="#fff4b3"/><stop offset="0.237" stop-color="#ffdd7d"/><stop offset="0.364" stop-color="#ffc13e"/><stop offset="0.480" stop-color="#ffa923"/><stop offset="0.636" stop-color="#ff8d04"/><stop offset="0.740" stop-color="#ff6d00"/><stop offset="0.803" stop-color="#fa5d00"/><stop offset="0.908" stop-color="#f45600"/><stop offset="1.000" stop-color="#fa5d00"/></linearGradient>
<linearGradient id="g79" gradientUnits="userSpaceOnUse" x1="48.30" x2="221.00" y1="0" y2="0"><stop offset="0.000" stop-color="#ffffe5"/><stop offset="0.127" stop-color="#fff5b5"/><stop offset="0.277" stop-color="#ffd66d"/><stop offset="0.358" stop-color="#ffc441"/><stop offset="0.451" stop-color="#ffae29"/><stop offset="0.636" stop-color="#ff8e05"/><stop offset="0.699" stop-color="#ff7c00"/><stop offset="0.809" stop-color="#fb5e00"/><stop offset="0.913" stop-color="#f45600"/><stop offset="1.000" stop-color="#fa5d00"/></linearGradient>
<linearGradient id="g80" gradientUnits="userSpaceOnUse" x1="48.30" x2="221.00" y1="0" y2="0"><stop offset="0.000" stop-color="#ffffe5"/><stop offset="0.133" stop-color="#fff5b5"/><stop offset="0.283" stop-color="#ffd66d"/><stop offset="0.358" stop-color="#ffc441"/><stop offset="0.514" stop-color="#ffa31c"/><stop offset="0.636" stop-color="#ff8f06"/><stop offset="0.694" stop-color="#ff7e00"/><stop offset="0.815" stop-color="#fb5e00"/><stop offset="0.919" stop-color="#f55700"/><stop offset="1.000" stop-color="#f95c00"/></linearGradient>
<linearGradient id="g81" gradientUnits="userSpaceOnUse" x1="48.30" x2="221.00" y1="0" y2="0"><stop offset="0.000" stop-color="#ffffe5"/><stop offset="0.133" stop-color="#fff5b6"/><stop offset="0.260" stop-color="#ffdd7d"/><stop offset="0.358" stop-color="#ffc542"/><stop offset="0.503" stop-color="#ffa620"/><stop offset="0.636" stop-color="#ff9107"/><stop offset="0.694" stop-color="#ff8000"/><stop offset="0.827" stop-color="#fb5e00"/><stop offset="0.936" stop-color="#f55700"/><stop offset="1.000" stop-color="#f95c00"/></linearGradient>
<linearGradient id="g82" gradientUnits="userSpaceOnUse" x1="48.30" x2="221.00" y1="0" y2="0"><stop offset="0.000" stop-color="#ffffe5"/><stop offset="0.145" stop-color="#fff4b3"/><stop offset="0.254" stop-color="#ffe084"/><stop offset="0.364" stop-color="#ffc441"/><stop offset="0.509" stop-color="#ffa620"/><stop offset="0.642" stop-color="#ff9107"/><stop offset="0.699" stop-color="#ff8000"/><stop offset="0.832" stop-color="#fb5e00"/><stop offset="0.960" stop-color="#f65800"/><stop offset="1.000" stop-color="#f85b00"/></linearGradient>
<linearGradient id="g83" gradientUnits="userSpaceOnUse" x1="48.30" x2="221.00" y1="0" y2="0"><stop offset="0.000" stop-color="#ffffe5"/><stop offset="0.150" stop-color="#fff4b3"/><stop offset="0.260" stop-color="#ffe084"/><stop offset="0.364" stop-color="#ffc542"/><stop offset="0.503" stop-color="#ffa721"/><stop offset="0.636" stop-color="#ff9309"/><stop offset="0.694" stop-color="#ff8400"/><stop offset="0.832" stop-color="#fe6100"/><stop offset="0.954" stop-color="#f65800"/><stop offset="1.000" stop-color="#f85b00"/></linearGradient>
<linearGradient id="g84" gradientUnits="userSpaceOnUse" x1="48.30" x2="221.00" y1="0" y2="0"><stop offset="0.000" stop-color="#ffffe5"/><stop offset="0.156" stop-color="#fff4b3"/><stop offset="0.260" stop-color="#ffe186"/><stop offset="0.370" stop-color="#ffc441"/><stop offset="0.491" stop-color="#ffaa24"/><stop offset="0.607" stop-color="#ff9b10"/><stop offset="0.694" stop-color="#ff8500"/><stop offset="0.827" stop-color="#ff6300"/><stop offset="0.965" stop-color="#f65800"/><stop offset="1.000" stop-color="#f75900"/></linearGradient>
<linearGradient id="g85" gradientUnits="userSpaceOnUse" x1="48.30" x2="221.00" y1="0" y2="0"><stop offset="0.000" stop-color="#ffffe5"/><stop offset="0.145" stop-color="#fff7b9"/><stop offset="0.260" stop-color="#ffe288"/><stop offset="0.370" stop-color="#ffc441"/><stop offset="0.497" stop-color="#ffaa24"/><stop offset="0.607" stop-color="#ff9c12"/><stop offset="0.699" stop-color="#ff8500"/><stop offset="0.838" stop-color="#ff6300"/><stop offset="0.983" stop-color="#f65800"/><stop offset="1.000" stop-color="#f75900"/></linearGradient>
<linearGradient id="g86" gradientUnits="userSpaceOnUse" x1="48.30" x2="221.00" y1="0" y2="0"><stop offset="0.000" stop-color="#ffffe5"/><stop offset="0.150" stop-color="#fff7b9"/><stop offset="0.260" stop-color="#ffe38b"/><stop offset="0.376" stop-color="#ffc23f"/><stop offset="0.497" stop-color="#ffab26"/><stop offset="0.613" stop-color="#ff9c12"/><stop offset="0.711" stop-color="#ff8400"/><stop offset="0.844" stop-color="#ff6400"/><stop offset="0.983" stop-color="#f65800"/><stop offset="1.000" stop-color="#f65800"/></linearGradient>
<linearGradient id="g87" gradientUnits="userSpaceOnUse" x1="48.30" x2="221.00" y1="0" y2="0"><stop offset="0.000" stop-color="#ffffe5"/><stop offset="0.150" stop-color="#fff7ba"/><stop offset="0.260" stop-color="#ffe48d"/><stop offset="0.370" stop-color="#ffc542"/><stop offset="0.474" stop-color="#ffaf2b"/><stop offset="0.613" stop-color="#ff9e14"/><stop offset="0.711" stop-color="#ff8600"/><stop offset="0.850" stop-color="#ff6400"/><stop offset="0.994" stop-color="#f65800"/><stop offset="1.000" stop-color="#f65800"/></linearGradient>
<linearGradient id="g88" gradientUnits="userSpaceOnUse" x1="324.80" x2="497.50" y1="0" y2="0"><stop offset="0.000" stop-color="#fffacc"/><stop offset="0.058" stop-color="#ffea9b"/><stop offset="0.092" stop-color="#ffda76"/><stop offset="0.133" stop-color="#ffc542"/><stop offset="0.202" stop-color="#ffa21a"/><stop offset="0.243" stop-color="#ff980d"/><stop offset="0.364" stop-color="#ff8400"/><stop offset="0.428" stop-color="#ff6600"/><stop offset="0.468" stop-color="#ec4c00"/><stop offset="0.538" stop-color="#a52d00"/><stop offset="0.572" stop-color="#892500"/><stop offset="0.618" stop-color="#762000"/><stop offset="0.665" stop-color="#7c2100"/><stop offset="0.734" stop-color="#9d2b00"/><stop offset="0.815" stop-color="#c43900"/><stop offset="0.896" stop-color="#d24000"/><stop offset="1.000" stop-color="#d44000"/></linearGradient>
<linearGradient id="g89" gradientUnits="userSpaceOnUse" x1="324.80" x2="497.50" y1="0" y2="0"><stop offset="0.000" stop-color="#fffbcd"/><stop offset="0.058" stop-color="#ffeb9e"/><stop offset="0.087" stop-color="#ffdf82"/><stop offset="0.139" stop-color="#ffc542"/><stop offset="0.202" stop-color="#ffa51e"/><stop offset="0.260" stop-color="#ff980d"/><stop offset="0.364" stop-color="#ff8600"/><stop offset="0.439" stop-color="#fe6100"/><stop offset="0.480" stop-color="#e24700"/><stop offset="0.543" stop-color="#a52d00"/><stop offset="0.584" stop-color="#8b2600"/><stop offset="0.636" stop-color="#7d2200"/><stop offset="0.682" stop-color="#872500"/><stop offset="0.751" stop-color="#a92e00"/><stop offset="0.809" stop-color="#c23800"/><stop offset="0.902" stop-color="#d03f00"/><stop offset="1.000" stop-color="#d03f00"/></linearGradient>
<linearGradient id="g90" gradientUnits="userSpaceOnUse" x1="324.80" x2="497.50" y1="0" y2="0"><stop offset="0.000" stop-color="#fffbce"/><stop offset="0.058" stop-color="#ffeca1"/><stop offset="0.092" stop-color="#ffde7f"/><stop offset="0.145" stop-color="#ffc542"/><stop offset="0.214" stop-color="#ffa51e"/><stop offset="0.301" stop-color="#ff960b"/><stop offset="0.370" stop-color="#ff8500"/><stop offset="0.439" stop-color="#fe6100"/><stop offset="0.480" stop-color="#e44800"/><stop offset="0.538" stop-color="#ae3000"/><stop offset="0.572" stop-color="#9a2a00"/><stop offset="0.642" stop-color="#852400"/><stop offset="0.694" stop-color="#8e2700"/><stop offset="0.798" stop-color="#be3700"/><stop offset="0.879" stop-color="#cd3d00"/><stop offset="1.000" stop-color="#cb3c00"/></linearGradient>
<linearGradient id="g91" gradientUnits="userSpaceOnUse" x1="324.80" x2="497.50" y1="0" y2="0"><stop offset="0.000" stop-color="#fffbd0"/><stop offset="0.069" stop-color="#ffe99a"/><stop offset="0.110" stop-color="#ffd770"/><stop offset="0.150" stop-color="#ffc542"/><stop offset="0.214" stop-color="#ffa721"/><stop offset="0.353" stop-color="#ff8d04"/><stop offset="0.422" stop-color="#ff6c00"/><stop offset="0.445" stop-color="#fb5e00"/><stop offset="0.486" stop-color="#e04600"/><stop offset="0.538" stop-color="#b43200"/><stop offset="0.584" stop-color="#9f2b00"/><stop offset="0.647" stop-color="#8e2700"/><stop offset="0.694" stop-color="#942800"/><stop offset="0.798" stop-color="#c03700"/><stop offset="0.902" stop-color="#cd3d00"/><stop offset="1.000" stop-color="#c73b00"/></linearGradient>
<linearGradient id="g92" gradientUnits="userSpaceOnUse" x1="324.80" x2="497.50" y1="0" y2="0"><stop offset="0.000" stop-color="#fffbd1"/><stop offset="0.069" stop-color="#ffea9d"/><stop offset="0.104" stop-color="#ffdc7b"/><stop offset="0.156" stop-color="#ffc441"/><stop offset="0.214" stop-color="#ffab26"/><stop offset="0.335" stop-color="#ff9309"/><stop offset="0.376" stop-color="#ff8400"/><stop offset="0.445" stop-color="#fd5f00"/><stop offset="0.480" stop-color="#e84900"/><stop offset="0.532" stop-color="#be3700"/><stop offset="0.584" stop-color="#a92e00"/><stop offset="0.659" stop-color="#962900"/><stop offset="0.705" stop-color="#9d2b00"/><stop offset="0.803" stop-color="#c23800"/><stop offset="0.908" stop-color="#cb3c00"/><stop offset="1.000" stop-color="#c43900"/></linearGradient>
<linearGradient id="g93" gradientUnits="userSpaceOnUse" x1="324.80" x2="497.50" y1="0" y2="0"><stop offset="0.000" stop-color="#fffcd2"/><stop offset="0.064" stop-color="#ffeda2"/><stop offset="0.098" stop-color="#ffe186"/><stop offset="0.162" stop-color="#ffc441"/><stop offset="0.225" stop-color="#ffab26"/><stop offset="0.324" stop-color="#ff980d"/><stop offset="0.376" stop-color="#ff8400"/><stop offset="0.445" stop-color="#fe6100"/><stop offset="0.486" stop-color="#e64800"/><stop offset="0.526" stop-color="#c73b00"/><stop offset="0.630" stop-color="#a32d00"/><stop offset="0.682" stop-color="#9d2b00"/><stop offset="0.740" stop-color="#ae3000"/><stop offset="0.809" stop-color="#c43900"/><stop offset="0.919" stop-color="#c73b00"/><stop offset="1.000" stop-color="#c03700"/></linearGradient>
<linearGradient id="g94" gradientUnits="userSpaceOnUse" x1="324.80" x2="497.50" y1="0" y2="0"><stop offset="0.000" stop-color="#fffcd2"/><stop offset="0.064" stop-color="#ffeda4"/><stop offset="0.104" stop-color="#ffe084"/><stop offset="0.168" stop-color="#ffc441"/><stop offset="0.225" stop-color="#ffae29"/><stop offset="0.306" stop-color="#ff9f16"/><stop offset="0.370" stop-color="#ff8800"/><stop offset="0.439" stop-color="#ff6500"/><stop offset="0.486" stop-color="#e94a00"/><stop offset="0.532" stop-color="#cd3d00"/><stop offset="0.630" stop-color="#ac2f00"/><stop offset="0.694" stop-color="#a52d00"/><stop offset="0.769" stop-color="#bb3500"/><stop offset="0.815" stop-color="#c63a00"/><stop offset="0.925" stop-color="#c63a00"/><stop offset="1.000" stop-color="#bd3600"/></linearGradient>
<linearGradient id="g95" gradientUnits="userSpaceOnUse" x1="324.80" x2="497.50" y1="0" y2="0"><stop offset="0.000" stop-color="#fffcd4"/><stop offset="0.069" stop-color="#ffeda2"/><stop offset="0.104" stop-color="#ffe288"/><stop offset="0.173" stop-color="#ffc441"/><stop offset="0.237" stop-color="#ffae29"/><stop offset="0.306" stop-color="#ffa118"/><stop offset="0.335" stop-color="#ff950a"/><stop offset="0.387" stop-color="#ff8200"/><stop offset="0.451" stop-color="#fe6100"/><stop offset="0.503" stop-color="#e24700"/><stop offset="0.607" stop-color="#bb3500"/><stop offset="0.699" stop-color="#ac2f00"/><stop offset="0.809" stop-color="#c73b00"/><stop offset="0.936" stop-color="#c23800"/><stop offset="1.000" stop-color="#b93400"/></linearGradient>
<linearGradient id="g96" gradientUnits="userSpaceOnUse" x1="324.80" x2="497.50" y1="0" y2="0"><stop offset="0.000" stop-color="#fffcd4"/><stop offset="0.069" stop-color="#ffeda4"/><stop offset="0.116" stop-color="#ffde7f"/><stop offset="0.179" stop-color="#ffc441"/><stop offset="0.231" stop-color="#ffb22e"/><stop offset="0.301" stop-color="#ffa31c"/><stop offset="0.335" stop-color="#ff960b"/><stop offset="0.387" stop-color="#ff8400"/><stop offset="0.457" stop-color="#fd5f00"/><stop offset="0.503" stop-color="#e94a00"/><stop offset="0.607" stop-color="#c23800"/><stop offset="0.705" stop-color="#b43200"/><stop offset="0.751" stop-color="#bd3600"/><stop offset="0.821" stop-color="#c93b00"/><stop offset="0.960" stop-color="#bd3600"/><stop offset="1.000" stop-color="#b53200"/></linearGradient>
<linearGradient id="g97" gradientUnits="userSpaceOnUse" x1="324.80" x2="497.50" y1="0" y2="0"><stop offset="0.000" stop-color="#fffcd5"/><stop offset="0.069" stop-color="#ffeea5"/><stop offset="0.116" stop-color="#ffe084"/><stop offset="0.185" stop-color="#ffc441"/><stop offset="0.277" stop-color="#ffab26"/><stop offset="0.353" stop-color="#ff9107"/><stop offset="0.405" stop-color="#ff7d00"/><stop offset="0.462" stop-color="#fb5e00"/><stop offset="0.532" stop-color="#e44800"/><stop offset="0.642" stop-color="#c23800"/><stop offset="0.728" stop-color="#bb3500"/><stop offset="0.803" stop-color="#c93b00"/><stop offset="0.902" stop-color="#c43900"/><stop offset="1.000" stop-color="#b43200"/></linearGradient>
<linearGradient id="g98" gradientUnits="userSpaceOnUse" x1="324.80" x2="497.50" y1="0" y2="0"><stop offset="0.000" stop-color="#fffcd5"/><stop offset="0.069" stop-color="#ffefa7"/><stop offset="0.121" stop-color="#ffdf82"/><stop offset="0.185" stop-color="#ffc644"/><stop offset="0.249" stop-color="#ffb531"/><stop offset="0.324" stop-color="#ff9c12"/><stop offset="0.387" stop-color="#ff8600"/><stop offset="0.468" stop-color="#fd5f00"/><stop offset="0.561" stop-color="#e04600"/><stop offset="0.653" stop-color="#c73b00"/><stop offset="0.734" stop-color="#c03700"/><stop offset="0.803" stop-color="#cb3c00"/><stop offset="0.884" stop-color="#c63a00"/><stop offset="1.000" stop-color="#b03000"/></linearGradient>
<linearGradient id="g99" gradientUnits="userSpaceOnUse" x1="324.80" x2="497.50" y1="0" y2="0"><stop offset="0.000" stop-color="#fffcd6"/><stop offset="0.069" stop-color="#ffefa8"/><stop offset="0.127" stop-color="#ffde7f"/><stop offset="0.191" stop-color="#ffc747"/><stop offset="0.231" stop-color="#ffba37"/><stop offset="0.301" stop-color="#ffa620"/><stop offset="0.358" stop-color="#ff9208"/><stop offset="0.405" stop-color="#ff8100"/><stop offset="0.474" stop-color="#fe6100"/><stop offset="0.584" stop-color="#e04600"/><stop offset="0.653" stop-color="#cf3e00"/><stop offset="0.740" stop-color="#c63a00"/><stop offset="0.815" stop-color="#cf3e00"/><stop offset="0.942" stop-color="#bb3500"/><stop offset="1.000" stop-color="#ae3000"/></linearGradient>
<linearGradient id="g100" gradientUnits="userSpaceOnUse" x1="324.80" x2="497.50" y1="0" y2="0"><stop offset="0.000" stop-color="#fffcd6"/><stop offset="0.069" stop-color="#fff0a9"/><stop offset="0.121" stop-color="#ffe186"/><stop offset="0.202" stop-color="#ffc542"/><stop offset="0.301" stop-color="#ffa721"/><stop offset="0.358" stop-color="#ff9309"/><stop offset="0.410" stop-color="#ff8000"/><stop offset="0.480" stop-color="#ff6300"/><stop offset="0.601" stop-color="#e04600"/><stop offset="0.705" stop-color="#cf3e00"/><stop offset="0.769" stop-color="#cd3d00"/><stop offset="0.832" stop-color="#cf3e00"/><stop offset="0.960" stop-color="#b53200"/><stop offset="1.000" stop-color="#ac2f00"/></linearGradient>
<linearGradient id="g101" gradientUnits="userSpaceOnUse" x1="324.80" x2="497.50" y1="0" y2="0"><stop offset="0.000" stop-color="#fffcd6"/><stop offset="0.081" stop-color="#ffeda4"/><stop offset="0.133" stop-color="#ffde7f"/><stop offset="0.202" stop-color="#ffc747"/><stop offset="0.335" stop-color="#ff9e14"/><stop offset="0.399" stop-color="#ff8800"/><stop offset="0.474" stop-color="#ff6900"/><stop offset="0.526" stop-color="#f85b00"/><stop offset="0.618" stop-color="#e24700"/><stop offset="0.723" stop-color="#d24000"/><stop offset="0.844" stop-color="#cf3e00"/><stop offset="0.971" stop-color="#b23100"/><stop offset="1.000" stop-color="#aa2f00"/></linearGradient>
<linearGradient id="g102" gradientUnits="userSpaceOnUse" x1="324.80" x2="497.50" y1="0" y2="0"><stop offset="0.000" stop-color="#fffcd6"/><stop offset="0.075" stop-color="#ffefa8"/><stop offset="0.127" stop-color="#ffe186"/><stop offset="0.208" stop-color="#ffc747"/><stop offset="0.341" stop-color="#ff9e14"/><stop offset="0.405" stop-color="#ff8800"/><stop offset="0.486" stop-color="#ff6900"/><stop offset="0.538" stop-color="#f85b00"/><stop offset="0.642" stop-color="#e24700"/><stop offset="0.780" stop-color="#d44000"/><stop offset="0.855" stop-color="#cf3e00"/><stop offset="0.994" stop-color="#aa2f00"/><stop offset="1.000" stop-color="#a92e00"/></linearGradient>
<linearGradient id="g103" gradientUnits="userSpaceOnUse" x1="324.80" x2="497.50" y1="0" y2="0"><stop offset="0.000" stop-color="#fffcd6"/><stop offset="0.075" stop-color="#fff0a9"/><stop offset="0.127" stop-color="#ffe38b"/><stop offset="0.197" stop-color="#ffcc53"/><stop offset="0.243" stop-color="#ffbe3b"/><stop offset="0.347" stop-color="#ff9e14"/><stop offset="0.416" stop-color="#ff8500"/><stop offset="0.532" stop-color="#fd5f00"/><stop offset="0.642" stop-color="#e84900"/><stop offset="0.775" stop-color="#d84200"/><stop offset="0.861" stop-color="#cf3e00"/><stop offset="0.994" stop-color="#aa2f00"/><stop offset="1.000" stop-color="#a92e00"/></linearGradient>
<linearGradient id="g104" gradientUnits="userSpaceOnUse" x1="324.80" x2="497.50" y1="0" y2="0"><stop offset="0.000" stop-color="#fffcd6"/><stop offset="0.081" stop-color="#ffefa7"/><stop offset="0.133" stop-color="#ffe288"/><stop offset="0.191" stop-color="#ffcf5a"/><stop offset="0.237" stop-color="#ffc23f"/><stop offset="0.358" stop-color="#ff9c12"/><stop offset="0.422" stop-color="#ff8600"/><stop offset="0.543" stop-color="#fd5f00"/><stop offset="0.659" stop-color="#e84900"/><stop offset="0.850" stop-color="#d24000"/><stop offset="0.960" stop-color="#b53200"/><stop offset="1.000" stop-color="#a92e00"/></linearGradient>
<linearGradient id="g105" gradientUnits="userSpaceOnUse" x1="324.80" x2="497.50" y1="0" y2="0"><stop offset="0.000" stop-color="#fffcd6"/><stop offset="0.081" stop-color="#ffefa8"/><stop offset="0.133" stop-color="#ffe38b"/><stop offset="0.197" stop-color="#ffcf5a"/><stop offset="0.243" stop-color="#ffc23f"/><stop offset="0.358" stop-color="#ff9f16"/><stop offset="0.416" stop-color="#ff8a02"/><stop offset="0.555" stop-color="#fd5f00"/><stop offset="0.676" stop-color="#e84900"/><stop offset="0.850" stop-color="#d44000"/><stop offset="0.971" stop-color="#b43200"/><stop offset="1.000" stop-color="#a92e00"/></linearGradient>
<linearGradient id="g106" gradientUnits="userSpaceOnUse" x1="324.80" x2="497.50" y1="0" y2="0"><stop offset="0.000" stop-color="#fffcd6"/><stop offset="0.087" stop-color="#ffeea5"/><stop offset="0.145" stop-color="#ffdf82"/><stop offset="0.243" stop-color="#ffc542"/><stop offset="0.358" stop-color="#ffa21a"/><stop offset="0.410" stop-color="#ff8f06"/><stop offset="0.457" stop-color="#ff8000"/><stop offset="0.572" stop-color="#fb5e00"/><stop offset="0.682" stop-color="#e94a00"/><stop offset="0.850" stop-color="#d64100"/><stop offset="0.971" stop-color="#b53200"/><stop offset="1.000" stop-color="#aa2f00"/></linearGradient>
<linearGradient id="g107" gradientUnits="userSpaceOnUse" x1="324.80" x2="497.50" y1="0" y2="0"><stop offset="0.000" stop-color="#fffcd5"/><stop offset="0.087" stop-color="#ffeea5"/><stop offset="0.145" stop-color="#ffe084"/><stop offset="0.225" stop-color="#ffcb51"/><stop offset="0.272" stop-color="#ffbe3b"/><stop offset="0.376" stop-color="#ff9f16"/><stop offset="0.439" stop-color="#ff8800"/><stop offset="0.572" stop-color="#fd5f00"/><stop offset="0.699" stop-color="#e94a00"/><stop offset="0.861" stop-color="#d64100"/><stop offset="0.971" stop-color="#b53200"/><stop offset="1.000" stop-color="#ac2f00"/></linearGradient>
<linearGradient id="g108" gradientUnits="userSpaceOnUse" x1="324.80" x2="497.50" y1="0" y2="0"><stop offset="0.000" stop-color="#fffcd5"/><stop offset="0.087" stop-color="#ffeea5"/><stop offset="0.145" stop-color="#ffe186"/><stop offset="0.237" stop-color="#ffca4e"/><stop offset="0.283" stop-color="#ffbe3b"/><stop offset="0.382" stop-color="#ffa118"/><stop offset="0.434" stop-color="#ff8b03"/><stop offset="0.572" stop-color="#ff6200"/><stop offset="0.694" stop-color="#eb4b00"/><stop offset="0.867" stop-color="#d84200"/><stop offset="1.000" stop-color="#ae3000"/></linearGradient>
<linearGradient id="g109" gradientUnits="userSpaceOnUse" x1="324.80" x2="497.50" y1="0" y2="0"><stop offset="0.000" stop-color="#fffcd5"/><stop offset="0.087" stop-color="#ffefa7"/><stop offset="0.150" stop-color="#ffe084"/><stop offset="0.249" stop-color="#ffc94c"/><stop offset="0.283" stop-color="#ffc13e"/><stop offset="0.382" stop-color="#ffa31c"/><stop offset="0.451" stop-color="#ff8800"/><stop offset="0.584" stop-color="#fe6100"/><stop offset="0.711" stop-color="#e94a00"/><stop offset="0.867" stop-color="#d94300"/><stop offset="1.000" stop-color="#b23100"/></linearGradient>
<linearGradient id="g110" gradientUnits="userSpaceOnUse" x1="324.80" x2="497.50" y1="0" y2="0"><stop offset="0.000" stop-color="#fffcd4"/><stop offset="0.092" stop-color="#ffeda4"/><stop offset="0.185" stop-color="#ffd872"/><stop offset="0.272" stop-color="#ffc644"/><stop offset="0.387" stop-color="#ffa51e"/><stop offset="0.439" stop-color="#ff8f06"/><stop offset="0.474" stop-color="#ff8200"/><stop offset="0.595" stop-color="#fd5f00"/><stop offset="0.723" stop-color="#e94a00"/><stop offset="0.879" stop-color="#d94300"/><stop offset="1.000" stop-color="#b43200"/></linearGradient>
<linearGradient id="g111" gradientUnits="userSpaceOnUse" x1="324.80" x2="497.50" y1="0" y2="0"><stop offset="0.000" stop-color="#fffcd4"/><stop offset="0.092" stop-color="#ffeda4"/><stop offset="0.168" stop-color="#ffde7f"/><stop offset="0.243" stop-color="#ffcd56"/><stop offset="0.295" stop-color="#ffc23f"/><stop offset="0.387" stop-color="#ffa721"/><stop offset="0.439" stop-color="#ff9208"/><stop offset="0.474" stop-color="#ff8400"/><stop offset="0.590" stop-color="#ff6200"/><stop offset="0.734" stop-color="#e84900"/><stop offset="0.879" stop-color="#db4400"/><stop offset="0.988" stop-color="#bb3500"/><stop offset="1.000" stop-color="#b73300"/></linearGradient>
<linearGradient id="g112" gradientUnits="userSpaceOnUse" x1="324.80" x2="497.50" y1="0" y2="0"><stop offset="0.000" stop-color="#fffcd4"/><stop offset="0.092" stop-color="#ffeda4"/><stop offset="0.168" stop-color="#ffdf82"/><stop offset="0.260" stop-color="#ffcb51"/><stop offset="0.335" stop-color="#ffba37"/><stop offset="0.405" stop-color="#ffa31c"/><stop offset="0.439" stop-color="#ff950a"/><stop offset="0.480" stop-color="#ff8400"/><stop offset="0.595" stop-color="#ff6200"/><stop offset="0.740" stop-color="#e84900"/><stop offset="0.890" stop-color="#db4400"/><stop offset="1.000" stop-color="#bb3500"/></linearGradient>
<linearGradient id="g113" gradientUnits="userSpaceOnUse" x1="324.80" x2="497.50" y1="0" y2="0"><stop offset="0.000" stop-color="#fffcd2"/><stop offset="0.110" stop-color="#ffeb9e"/><stop offset="0.168" stop-color="#ffe084"/><stop offset="0.260" stop-color="#ffcc53"/><stop offset="0.324" stop-color="#ffc03c"/><stop offset="0.405" stop-color="#ffa620"/><stop offset="0.457" stop-color="#ff8f06"/><stop offset="0.491" stop-color="#ff8100"/><stop offset="0.595" stop-color="#ff6300"/><stop offset="0.740" stop-color="#e94a00"/><stop offset="0.902" stop-color="#db4400"/><stop offset="1.000" stop-color="#c03700"/></linearGradient>
<linearGradient id="g114" gradientUnits="userSpaceOnUse" x1="324.80" x2="497.50" y1="0" y2="0"><stop offset="0.000" stop-color="#fffcd2"/><stop offset="0.133" stop-color="#ffe796"/><stop offset="0.185" stop-color="#ffdd7d"/><stop offset="0.249" stop-color="#ffd05d"/><stop offset="0.318" stop-color="#ffc23f"/><stop offset="0.393" stop-color="#ffad28"/><stop offset="0.457" stop-color="#ff9107"/><stop offset="0.497" stop-color="#ff8100"/><stop offset="0.590" stop-color="#ff6500"/><stop offset="0.746" stop-color="#e94a00"/><stop offset="0.913" stop-color="#db4400"/><stop offset="1.000" stop-color="#c43900"/></linearGradient>
<linearGradient id="g115" gradientUnits="userSpaceOnUse" x1="324.80" x2="497.50" y1="0" y2="0"><stop offset="0.000" stop-color="#fffbd1"/><stop offset="0.121" stop-color="#ffea9b"/><stop offset="0.185" stop-color="#ffde7f"/><stop offset="0.249" stop-color="#ffd15f"/><stop offset="0.324" stop-color="#ffc23f"/><stop offset="0.399" stop-color="#ffad28"/><stop offset="0.462" stop-color="#ff9107"/><stop offset="0.497" stop-color="#ff8200"/><stop offset="0.601" stop-color="#ff6300"/><stop offset="0.763" stop-color="#e84900"/><stop offset="0.919" stop-color="#dd4400"/><stop offset="1.000" stop-color="#c73b00"/></linearGradient>
<linearGradient id="g116" gradientUnits="userSpaceOnUse" x1="324.80" x2="497.50" y1="0" y2="0"><stop offset="0.000" stop-color="#fffbd1"/><stop offset="0.150" stop-color="#ffe591"/><stop offset="0.312" stop-color="#ffc644"/><stop offset="0.405" stop-color="#ffad28"/><stop offset="0.468" stop-color="#ff9107"/><stop offset="0.503" stop-color="#ff8200"/><stop offset="0.590" stop-color="#ff6600"/><stop offset="0.757" stop-color="#e94a00"/><stop offset="0.936" stop-color="#dd4400"/><stop offset="1.000" stop-color="#cd3d00"/></linearGradient>
<linearGradient id="g117" gradientUnits="userSpaceOnUse" x1="324.80" x2="497.50" y1="0" y2="0"><stop offset="0.000" stop-color="#fffbd1"/><stop offset="0.168" stop-color="#ffe48d"/><stop offset="0.249" stop-color="#ffd264"/><stop offset="0.335" stop-color="#ffc23f"/><stop offset="0.405" stop-color="#ffae29"/><stop offset="0.474" stop-color="#ff9107"/><stop offset="0.509" stop-color="#ff8100"/><stop offset="0.607" stop-color="#ff6300"/><stop offset="0.769" stop-color="#e94a00"/><stop offset="0.954" stop-color="#dd4400"/><stop offset="1.000" stop-color="#d24000"/></linearGradient>
<linearGradient id="g118" gradientUnits="userSpaceOnUse" x1="324.80" x2="497.50" y1="0" y2="0"><stop offset="0.000" stop-color="#fffbd0"/><stop offset="0.127" stop-color="#ffea9d"/><stop offset="0.191" stop-color="#ffdf82"/><stop offset="0.324" stop-color="#ffc644"/><stop offset="0.416" stop-color="#ffab26"/><stop offset="0.480" stop-color="#ff8f06"/><stop offset="0.514" stop-color="#ff8100"/><stop offset="0.601" stop-color="#ff6500"/><stop offset="0.734" stop-color="#ee4f00"/><stop offset="0.960" stop-color="#df4500"/><stop offset="1.000" stop-color="#d64100"/></linearGradient>
<linearGradient id="g119" gradientUnits="userSpaceOnUse" x1="324.80" x2="497.50" y1="0" y2="0"><stop offset="0.000" stop-color="#fffbd0"/><stop offset="0.121" stop-color="#ffeca0"/><stop offset="0.185" stop-color="#ffe186"/><stop offset="0.289" stop-color="#ffcd56"/><stop offset="0.341" stop-color="#ffc23f"/><stop offset="0.422" stop-color="#ffaa24"/><stop offset="0.486" stop-color="#ff8e05"/><stop offset="0.532" stop-color="#ff7a00"/><stop offset="0.636" stop-color="#fb5e00"/><stop offset="0.780" stop-color="#eb4b00"/><stop offset="0.971" stop-color="#e04600"/><stop offset="1.000" stop-color="#db4400"/></linearGradient>
<linearGradient id="g120" gradientUnits="userSpaceOnUse" x1="324.80" x2="497.50" y1="0" y2="0"><stop offset="0.000" stop-color="#fffbd0"/><stop offset="0.116" stop-color="#ffeda2"/><stop offset="0.197" stop-color="#ffdf82"/><stop offset="0.335" stop-color="#ffc542"/><stop offset="0.428" stop-color="#ffa923"/><stop offset="0.480" stop-color="#ff9208"/><stop offset="0.520" stop-color="#ff8100"/><stop offset="0.613" stop-color="#ff6300"/><stop offset="0.740" stop-color="#ef5000"/><stop offset="0.942" stop-color="#e64800"/><stop offset="1.000" stop-color="#e04600"/></linearGradient>
<linearGradient id="g121" gradientUnits="userSpaceOnUse" x1="324.80" x2="497.50" y1="0" y2="0"><stop offset="0.000" stop-color="#fffbd0"/><stop offset="0.110" stop-color="#ffeea5"/><stop offset="0.185" stop-color="#ffe288"/><stop offset="0.341" stop-color="#ffc441"/><stop offset="0.434" stop-color="#ffa721"/><stop offset="0.486" stop-color="#ff9107"/><stop offset="0.526" stop-color="#ff8000"/><stop offset="0.624" stop-color="#fe6100"/><stop offset="0.763" stop-color="#ee4f00"/><stop offset="1.000" stop-color="#e44800"/></linearGradient>
<linearGradient id="g122" gradientUnits="userSpaceOnUse" x1="324.80" x2="497.50" y1="0" y2="0"><stop offset="0.000" stop-color="#fffbd1"/><stop offset="0.116" stop-color="#ffeda4"/><stop offset="0.197" stop-color="#ffe084"/><stop offset="0.341" stop-color="#ffc23f"/><stop offset="0.434" stop-color="#ffa721"/><stop offset="0.486" stop-color="#ff9208"/><stop offset="0.526" stop-color="#ff8100"/><stop offset="0.618" stop-color="#ff6300"/><stop offset="0.746" stop-color="#f05100"/><stop offset="0.948" stop-color="#eb4b00"/><stop offset="1.000" stop-color="#e94a00"/></linearGradient>
<linearGradient id="g123" gradientUnits="userSpaceOnUse" x1="324.80" x2="497.50" y1="0" y2="0"><stop offset="0.000" stop-color="#fffbd1"/><stop offset="0.121" stop-color="#ffeda2"/><stop offset="0.202" stop-color="#ffdf82"/><stop offset="0.341" stop-color="#ffc23f"/><stop offset="0.439" stop-color="#ffa51e"/><stop offset="0.486" stop-color="#ff9208"/><stop offset="0.526" stop-color="#ff8200"/><stop offset="0.618" stop-color="#ff6300"/><stop offset="0.751" stop-color="#f15200"/><stop offset="0.965" stop-color="#ed4d00"/><stop offset="1.000" stop-color="#ec4c00"/></linearGradient>
<linearGradient id="g124" gradientUnits="userSpaceOnUse" x1="324.80" x2="497.50" y1="0" y2="0"><stop offset="0.000" stop-color="#fffbd1"/><stop offset="0.110" stop-color="#ffefa7"/><stop offset="0.202" stop-color="#ffdf82"/><stop offset="0.335" stop-color="#ffc441"/><stop offset="0.445" stop-color="#ffa21a"/><stop offset="0.503" stop-color="#ff8b03"/><stop offset="0.613" stop-color="#ff6500"/><stop offset="0.734" stop-color="#f35500"/><stop offset="0.919" stop-color="#f05100"/><stop offset="1.000" stop-color="#ef5000"/></linearGradient>
<linearGradient id="g125" gradientUnits="userSpaceOnUse" x1="324.80" x2="497.50" y1="0" y2="0"><stop offset="0.000" stop-color="#fffcd2"/><stop offset="0.127" stop-color="#ffeca1"/><stop offset="0.202" stop-color="#ffdf82"/><stop offset="0.329" stop-color="#ffc441"/><stop offset="0.457" stop-color="#ff9e14"/><stop offset="0.514" stop-color="#ff8800"/><stop offset="0.607" stop-color="#ff6800"/><stop offset="0.728" stop-color="#f55700"/><stop offset="0.948" stop-color="#f25300"/><stop offset="1.000" stop-color="#f15200"/></linearGradient>
<linearGradient id="g126" gradientUnits="userSpaceOnUse" x1="324.80" x2="497.50" y1="0" y2="0"><stop offset="0.000" stop-color="#fffcd2"/><stop offset="0.110" stop-color="#ffefa8"/><stop offset="0.191" stop-color="#ffe288"/><stop offset="0.329" stop-color="#ffc23f"/><stop offset="0.509" stop-color="#ff8a02"/><stop offset="0.601" stop-color="#ff6a00"/><stop offset="0.717" stop-color="#f75900"/><stop offset="0.902" stop-color="#f55700"/><stop offset="1.000" stop-color="#f35500"/></linearGradient>
<linearGradient id="g127" gradientUnits="userSpaceOnUse" x1="324.80" x2="497.50" y1="0" y2="0"><stop offset="0.000" stop-color="#fffcd4"/><stop offset="0.121" stop-color="#ffeda4"/><stop offset="0.191" stop-color="#ffe288"/><stop offset="0.324" stop-color="#ffc441"/><stop offset="0.422" stop-color="#ffa31c"/><stop offset="0.514" stop-color="#ff8800"/><stop offset="0.601" stop-color="#ff6a00"/><stop offset="0.757" stop-color="#f65800"/><stop offset="1.000" stop-color="#f65800"/></linearGradient>
<linearGradient id="g128" gradientUnits="userSpaceOnUse" x1="324.80" x2="497.50" y1="0" y2="0"><stop offset="0.000" stop-color="#fffcd4"/><stop offset="0.116" stop-color="#ffefa7"/><stop offset="0.191" stop-color="#ffe288"/><stop offset="0.318" stop-color="#ffc441"/><stop offset="0.376" stop-color="#ffae29"/><stop offset="0.445" stop-color="#ff9b10"/><stop offset="0.526" stop-color="#ff8200"/><stop offset="0.607" stop-color="#ff6a00"/><stop offset="0.769" stop-color="#f75900"/><stop offset="0.994" stop-color="#f85b00"/><stop offset="1.000" stop-color="#f85b00"/></linearGradient>
<linearGradient id="g129" gradientUnits="userSpaceOnUse" x1="324.80" x2="497.50" y1="0" y2="0"><stop offset="0.000" stop-color="#fffcd5"/><stop offset="0.116" stop-color="#ffefa7"/><stop offset="0.191" stop-color="#ffe288"/><stop offset="0.318" stop-color="#ffc23f"/><stop offset="0.422" stop-color="#ff9b10"/><stop offset="0.497" stop-color="#ff8d04"/><stop offset="0.601" stop-color="#ff6b00"/><stop offset="0.763" stop-color="#f95c00"/><stop offset="0.954" stop-color="#fb5e00"/><stop offset="1.000" stop-color="#fa5d00"/></linearGradient>
<linearGradient id="g130" gradientUnits="userSpaceOnUse" x1="324.80" x2="497.50" y1="0" y2="0"><stop offset="0.000" stop-color="#fffcd5"/><stop offset="0.110" stop-color="#fff0a9"/><stop offset="0.185" stop-color="#ffe38b"/><stop offset="0.306" stop-color="#ffc542"/><stop offset="0.410" stop-color="#ff9b10"/><stop offset="0.514" stop-color="#ff8600"/><stop offset="0.601" stop-color="#ff6b00"/><stop offset="0.757" stop-color="#fb5e00"/><stop offset="0.948" stop-color="#fe6100"/><stop offset="1.000" stop-color="#fd5f00"/></linearGradient>
<linearGradient id="g131" gradientUnits="userSpaceOnUse" x1="324.80" x2="497.50" y1="0" y2="0"><stop offset="0.000" stop-color="#fffcd6"/><stop offset="0.116" stop-color="#ffefa8"/><stop offset="0.185" stop-color="#ffe38b"/><stop offset="0.312" stop-color="#ffc13e"/><stop offset="0.410" stop-color="#ff970c"/><stop offset="0.532" stop-color="#ff8000"/><stop offset="0.607" stop-color="#ff6b00"/><stop offset="0.740" stop-color="#fe6100"/><stop offset="0.948" stop-color="#ff6200"/><stop offset="1.000" stop-color="#ff6200"/></linearGradient>
<linearGradient id="g132" gradientUnits="userSpaceOnUse" x1="324.80" x2="497.50" y1="0" y2="0"><stop offset="0.000" stop-color="#fffdd7"/><stop offset="0.116" stop-color="#ffefa8"/><stop offset="0.191" stop-color="#ffe186"/><stop offset="0.312" stop-color="#ffbe3b"/><stop offset="0.393" stop-color="#ff980d"/><stop offset="0.474" stop-color="#ff8901"/><stop offset="0.572" stop-color="#ff7200"/><stop offset="0.665" stop-color="#ff6500"/><stop offset="0.780" stop-color="#ff6300"/><stop offset="0.919" stop-color="#ff6400"/><stop offset="1.000" stop-color="#ff6400"/></linearGradient>
<linearGradient id="g133" gradientUnits="userSpaceOnUse" x1="324.80" x2="497.50" y1="0" y2="0"><stop offset="0.000" stop-color="#fffdd7"/><stop offset="0.110" stop-color="#fff0ab"/><stop offset="0.191" stop-color="#ffe186"/><stop offset="0.306" stop-color="#ffbe3b"/><stop offset="0.387" stop-color="#ff970c"/><stop offset="0.457" stop-color="#ff8600"/><stop offset="0.538" stop-color="#ff7c00"/><stop offset="0.613" stop-color="#ff6a00"/><stop offset="0.728" stop-color="#ff6400"/><stop offset="0.931" stop-color="#ff6500"/><stop offset="1.000" stop-color="#ff6500"/></linearGradient>
<linearGradient id="g134" gradientUnits="userSpaceOnUse" x1="324.80" x2="497.50" y1="0" y2="0"><stop offset="0.000" stop-color="#fffdd9"/><stop offset="0.116" stop-color="#fff0a9"/><stop offset="0.197" stop-color="#ffdf82"/><stop offset="0.301" stop-color="#ffbe3b"/><stop offset="0.376" stop-color="#ff980d"/><stop offset="0.434" stop-color="#ff8600"/><stop offset="0.561" stop-color="#ff7400"/><stop offset="0.653" stop-color="#ff6600"/><stop offset="0.798" stop-color="#ff6800"/><stop offset="1.000" stop-color="#ff6800"/></linearGradient>
<linearGradient id="g135" gradientUnits="userSpaceOnUse" x1="324.80" x2="497.50" y1="0" y2="0"><stop offset="0.000" stop-color="#fffdda"/><stop offset="0.116" stop-color="#fff0a9"/><stop offset="0.185" stop-color="#ffe288"/><stop offset="0.272" stop-color="#ffc94c"/><stop offset="0.283" stop-color="#ffc441"/><stop offset="0.376" stop-color="#ff950a"/><stop offset="0.428" stop-color="#ff8400"/><stop offset="0.584" stop-color="#ff6d00"/><stop offset="0.694" stop-color="#ff6500"/><stop offset="0.873" stop-color="#ff6a00"/><stop offset="1.000" stop-color="#ff6900"/></linearGradient>
<linearGradient id="g136" gradientUnits="userSpaceOnUse" x1="324.80" x2="497.50" y1="0" y2="0"><stop offset="0.000" stop-color="#fffdda"/><stop offset="0.121" stop-color="#ffefa8"/><stop offset="0.191" stop-color="#ffe084"/><stop offset="0.266" stop-color="#ffc94c"/><stop offset="0.295" stop-color="#ffba37"/><stop offset="0.364" stop-color="#ff960b"/><stop offset="0.410" stop-color="#ff8500"/><stop offset="0.491" stop-color="#ff7600"/><stop offset="0.671" stop-color="#ff6600"/><stop offset="0.919" stop-color="#ff6a00"/><stop offset="1.000" stop-color="#ff6a00"/></linearGradient>
<linearGradient id="g137" gradientUnits="userSpaceOnUse" x1="324.80" x2="497.50" y1="0" y2="0"><stop offset="0.000" stop-color="#fffddb"/><stop offset="0.116" stop-color="#fff0ab"/><stop offset="0.191" stop-color="#ffe084"/><stop offset="0.254" stop-color="#ffcc53"/><stop offset="0.277" stop-color="#ffc13e"/><stop offset="0.358" stop-color="#ff960b"/><stop offset="0.399" stop-color="#ff8500"/><stop offset="0.491" stop-color="#ff7200"/><stop offset="0.676" stop-color="#ff6600"/><stop offset="0.879" stop-color="#ff6b00"/><stop offset="1.000" stop-color="#ff6a00"/></linearGradient>
<linearGradient id="g138" gradientUnits="userSpaceOnUse" x1="324.80" x2="497.50" y1="0" y2="0"><stop offset="0.000" stop-color="#fffddb"/><stop offset="0.116" stop-color="#fff0ab"/><stop offset="0.191" stop-color="#ffe084"/><stop offset="0.254" stop-color="#ffca4e"/><stop offset="0.277" stop-color="#ffbe3b"/><stop offset="0.353" stop-color="#ff960b"/><stop offset="0.393" stop-color="#ff8500"/><stop offset="0.462" stop-color="#ff7200"/><stop offset="0.671" stop-color="#ff6600"/><stop offset="0.827" stop-color="#ff6c00"/><stop offset="1.000" stop-color="#ff6a00"/></linearGradient>
<linearGradient id="g139" gradientUnits="userSpaceOnUse" x1="324.80" x2="497.50" y1="0" y2="0"><stop offset="0.000" stop-color="#fffedd"/><stop offset="0.116" stop-color="#fff1ac"/><stop offset="0.191" stop-color="#ffe084"/><stop offset="0.237" stop-color="#ffd05d"/><stop offset="0.266" stop-color="#ffc441"/><stop offset="0.353" stop-color="#ff9309"/><stop offset="0.387" stop-color="#ff8400"/><stop offset="0.468" stop-color="#ff6f00"/><stop offset="0.659" stop-color="#ff6500"/><stop offset="0.821" stop-color="#ff6b00"/><stop offset="1.000" stop-color="#ff6a00"/></linearGradient>
<linearGradient id="g140" gradientUnits="userSpaceOnUse" x1="324.80" x2="497.50" y1="0" y2="0"><stop offset="0.000" stop-color="#fffedd"/><stop offset="0.116" stop-color="#fff1ac"/><stop offset="0.191" stop-color="#ffe084"/><stop offset="0.243" stop-color="#ffcd56"/><stop offset="0.277" stop-color="#ffbc38"/><stop offset="0.341" stop-color="#ff970c"/><stop offset="0.382" stop-color="#ff8500"/><stop offset="0.457" stop-color="#ff6f00"/><stop offset="0.636" stop-color="#ff6400"/><stop offset="0.844" stop-color="#ff6b00"/><stop offset="1.000" stop-color="#ff6a00"/></linearGradient>
<linearGradient id="g141" gradientUnits="userSpaceOnUse" x1="324.80" x2="497.50" y1="0" y2="0"><stop offset="0.000" stop-color="#fffede"/><stop offset="0.121" stop-color="#fff0a9"/><stop offset="0.191" stop-color="#ffe084"/><stop offset="0.237" stop-color="#ffd05d"/><stop offset="0.272" stop-color="#ffbe3b"/><stop offset="0.347" stop-color="#ff9309"/><stop offset="0.382" stop-color="#ff8400"/><stop offset="0.445" stop-color="#ff7000"/><stop offset="0.572" stop-color="#ff6400"/><stop offset="0.671" stop-color="#ff6300"/><stop offset="0.838" stop-color="#ff6a00"/><stop offset="1.000" stop-color="#ff6900"/></linearGradient>
<linearGradient id="g142" gradientUnits="userSpaceOnUse" x1="324.80" x2="497.50" y1="0" y2="0"><stop offset="0.000" stop-color="#fffede"/><stop offset="0.116" stop-color="#fff1ac"/><stop offset="0.185" stop-color="#ffe288"/><stop offset="0.243" stop-color="#ffce58"/><stop offset="0.266" stop-color="#ffc23f"/><stop offset="0.341" stop-color="#ff960b"/><stop offset="0.376" stop-color="#ff8500"/><stop offset="0.445" stop-color="#ff6d00"/><stop offset="0.642" stop-color="#fb5e00"/><stop offset="0.844" stop-color="#ff6800"/><stop offset="1.000" stop-color="#ff6800"/></linearGradient>
<linearGradient id="g143" gradientUnits="userSpaceOnUse" x1="324.80" x2="497.50" y1="0" y2="0"><stop offset="0.000" stop-color="#fffede"/><stop offset="0.121" stop-color="#fff0ab"/><stop offset="0.191" stop-color="#ffe186"/><stop offset="0.272" stop-color="#ffc13e"/><stop offset="0.347" stop-color="#ff9309"/><stop offset="0.382" stop-color="#ff8100"/><stop offset="0.451" stop-color="#ff6c00"/><stop offset="0.584" stop-color="#fb5e00"/><stop offset="0.694" stop-color="#fa5d00"/><stop offset="0.850" stop-color="#ff6600"/><stop offset="1.000" stop-color="#ff6600"/></linearGradient>
<linearGradient id="g144" gradientUnits="userSpaceOnUse" x1="324.80" x2="497.50" y1="0" y2="0"><stop offset="0.000" stop-color="#fffede"/><stop offset="0.121" stop-color="#fff0ab"/><stop offset="0.191" stop-color="#ffe186"/><stop offset="0.254" stop-color="#ffca4e"/><stop offset="0.283" stop-color="#ffba37"/><stop offset="0.347" stop-color="#ff9309"/><stop offset="0.382" stop-color="#ff8100"/><stop offset="0.445" stop-color="#ff6c00"/><stop offset="0.566" stop-color="#fb5e00"/><stop offset="0.636" stop-color="#f65800"/><stop offset="0.757" stop-color="#fd5f00"/><stop offset="0.861" stop-color="#ff6400"/><stop offset="1.000" stop-color="#ff6400"/></linearGradient>
<linearGradient id="g145" gradientUnits="userSpaceOnUse" x1="324.80" x2="497.50" y1="0" y2="0"><stop offset="0.000" stop-color="#fffede"/><stop offset="0.121" stop-color="#fff0ab"/><stop offset="0.197" stop-color="#ffe084"/><stop offset="0.272" stop-color="#ffc23f"/><stop offset="0.353" stop-color="#ff9107"/><stop offset="0.382" stop-color="#ff8100"/><stop offset="0.445" stop-color="#ff6c00"/><stop offset="0.561" stop-color="#fa5d00"/><stop offset="0.618" stop-color="#f35500"/><stop offset="0.723" stop-color="#f65800"/><stop offset="0.855" stop-color="#ff6200"/><stop offset="1.000" stop-color="#ff6200"/></linearGradient>
<linearGradient id="g146" gradientUnits="userSpaceOnUse" x1="324.80" x2="497.50" y1="0" y2="0"><stop offset="0.000" stop-color="#fffedf"/><stop offset="0.116" stop-color="#fff2ae"/><stop offset="0.191" stop-color="#ffe288"/><stop offset="0.231" stop-color="#ffd366"/><stop offset="0.272" stop-color="#ffc23f"/><stop offset="0.324" stop-color="#ffa31c"/><stop offset="0.347" stop-color="#ff950a"/><stop offset="0.376" stop-color="#ff8500"/><stop offset="0.434" stop-color="#ff6f00"/><stop offset="0.538" stop-color="#fb5e00"/><stop offset="0.613" stop-color="#f05100"/><stop offset="0.740" stop-color="#f45600"/><stop offset="0.861" stop-color="#fd5f00"/><stop offset="1.000" stop-color="#fd5f00"/></linearGradient>
<linearGradient id="g147" gradientUnits="userSpaceOnUse" x1="324.80" x2="497.50" y1="0" y2="0"><stop offset="0.000" stop-color="#fffedf"/><stop offset="0.121" stop-color="#fff1ac"/><stop offset="0.197" stop-color="#ffe186"/><stop offset="0.254" stop-color="#ffcb51"/><stop offset="0.277" stop-color="#ffc03c"/><stop offset="0.329" stop-color="#ffa118"/><stop offset="0.364" stop-color="#ff8b03"/><stop offset="0.428" stop-color="#ff7000"/><stop offset="0.526" stop-color="#fd5f00"/><stop offset="0.607" stop-color="#ed4d00"/><stop offset="0.746" stop-color="#f15200"/><stop offset="0.867" stop-color="#fa5d00"/><stop offset="1.000" stop-color="#fa5d00"/></linearGradient>
<linearGradient id="g148" gradientUnits="userSpaceOnUse" x1="324.80" x2="497.50" y1="0" y2="0"><stop offset="0.000" stop-color="#fffedf"/><stop offset="0.116" stop-color="#fff2af"/><stop offset="0.197" stop-color="#ffe288"/><stop offset="0.249" stop-color="#ffce58"/><stop offset="0.272" stop-color="#ffc441"/><stop offset="0.335" stop-color="#ff9f16"/><stop offset="0.370" stop-color="#ff8901"/><stop offset="0.434" stop-color="#ff6f00"/><stop offset="0.520" stop-color="#fb5e00"/><stop offset="0.613" stop-color="#e84900"/><stop offset="0.757" stop-color="#ef5000"/><stop offset="0.884" stop-color="#f85b00"/><stop offset="1.000" stop-color="#f85b00"/></linearGradient>
<linearGradient id="g149" gradientUnits="userSpaceOnUse" x1="324.80" x2="497.50" y1="0" y2="0"><stop offset="0.000" stop-color="#fffedf"/><stop offset="0.121" stop-color="#fff2ae"/><stop offset="0.202" stop-color="#ffe186"/><stop offset="0.277" stop-color="#ffc13e"/><stop offset="0.335" stop-color="#ffa118"/><stop offset="0.358" stop-color="#ff9208"/><stop offset="0.382" stop-color="#ff8400"/><stop offset="0.439" stop-color="#ff6d00"/><stop offset="0.509" stop-color="#fd5f00"/><stop offset="0.590" stop-color="#e84900"/><stop offset="0.642" stop-color="#e24700"/><stop offset="0.786" stop-color="#ef5000"/><stop offset="0.902" stop-color="#f55700"/><stop offset="1.000" stop-color="#f55700"/></linearGradient>
<linearGradient id="g150" gradientUnits="userSpaceOnUse" x1="324.80" x2="497.50" y1="0" y2="0"><stop offset="0.000" stop-color="#fffedf"/><stop offset="0.133" stop-color="#fff0ab"/><stop offset="0.202" stop-color="#ffe288"/><stop offset="0.277" stop-color="#ffc23f"/><stop offset="0.341" stop-color="#ff9e14"/><stop offset="0.376" stop-color="#ff8901"/><stop offset="0.434" stop-color="#ff7000"/><stop offset="0.503" stop-color="#fb5e00"/><stop offset="0.590" stop-color="#e24700"/><stop offset="0.647" stop-color="#dd4400"/><stop offset="0.798" stop-color="#ed4d00"/><stop offset="0.913" stop-color="#f35500"/><stop offset="1.000" stop-color="#f35500"/></linearGradient>
<linearGradient id="g151" gradientUnits="userSpaceOnUse" x1="324.80" x2="497.50" y1="0" y2="0"><stop offset="0.000" stop-color="#fffedf"/><stop offset="0.133" stop-color="#fff1ac"/><stop offset="0.202" stop-color="#ffe38b"/><stop offset="0.283" stop-color="#ffc03c"/><stop offset="0.370" stop-color="#ff8d04"/><stop offset="0.434" stop-color="#ff7000"/><stop offset="0.497" stop-color="#fb5e00"/><stop offset="0.578" stop-color="#e24700"/><stop offset="0.630" stop-color="#d84200"/><stop offset="0.775" stop-color="#e44800"/><stop offset="0.861" stop-color="#ef5000"/><stop offset="1.000" stop-color="#f05100"/></linearGradient>
<linearGradient id="g152" gradientUnits="userSpaceOnUse" x1="324.80" x2="497.50" y1="0" y2="0"><stop offset="0.000" stop-color="#fffedf"/><stop offset="0.133" stop-color="#fff2ae"/><stop offset="0.202" stop-color="#ffe48d"/><stop offset="0.272" stop-color="#ffc849"/><stop offset="0.306" stop-color="#ffb32f"/><stop offset="0.370" stop-color="#ff8e05"/><stop offset="0.399" stop-color="#ff7e00"/><stop offset="0.486" stop-color="#fe6100"/><stop offset="0.566" stop-color="#e24700"/><stop offset="0.618" stop-color="#d44000"/><stop offset="0.705" stop-color="#d84200"/><stop offset="0.884" stop-color="#ed4d00"/><stop offset="1.000" stop-color="#ee4f00"/></linearGradient>
<linearGradient id="g153" gradientUnits="userSpaceOnUse" x1="324.80" x2="497.50" y1="0" y2="0"><stop offset="0.000" stop-color="#fffedf"/><stop offset="0.139" stop-color="#fff1ac"/><stop offset="0.202" stop-color="#ffe48f"/><stop offset="0.272" stop-color="#ffc94c"/><stop offset="0.295" stop-color="#ffbc38"/><stop offset="0.370" stop-color="#ff8f06"/><stop offset="0.405" stop-color="#ff7d00"/><stop offset="0.480" stop-color="#fe6100"/><stop offset="0.561" stop-color="#e04600"/><stop offset="0.618" stop-color="#d03f00"/><stop offset="0.705" stop-color="#d24000"/><stop offset="0.908" stop-color="#eb4b00"/><stop offset="1.000" stop-color="#eb4b00"/></linearGradient>
<linearGradient id="g154" gradientUnits="userSpaceOnUse" x1="324.80" x2="497.50" y1="0" y2="0"><stop offset="0.000" stop-color="#fffee1"/><stop offset="0.139" stop-color="#fff2ae"/><stop offset="0.208" stop-color="#ffe38b"/><stop offset="0.260" stop-color="#ffcf5a"/><stop offset="0.289" stop-color="#ffc13e"/><stop offset="0.370" stop-color="#ff9107"/><stop offset="0.399" stop-color="#ff8100"/><stop offset="0.480" stop-color="#fd5f00"/><stop offset="0.555" stop-color="#e04600"/><stop offset="0.618" stop-color="#cd3d00"/><stop offset="0.705" stop-color="#cd3d00"/><stop offset="0.913" stop-color="#e64800"/><stop offset="1.000" stop-color="#e84900"/></linearGradient>
<linearGradient id="g155" gradientUnits="userSpaceOnUse" x1="324.80" x2="497.50" y1="0" y2="0"><stop offset="0.000" stop-color="#fffee1"/><stop offset="0.145" stop-color="#fff2ae"/><stop offset="0.214" stop-color="#ffe288"/><stop offset="0.266" stop-color="#ffce58"/><stop offset="0.289" stop-color="#ffc23f"/><stop offset="0.347" stop-color="#ff9f16"/><stop offset="0.382" stop-color="#ff8b03"/><stop offset="0.474" stop-color="#fe6100"/><stop offset="0.549" stop-color="#e24700"/><stop offset="0.613" stop-color="#cb3c00"/><stop offset="0.699" stop-color="#c93b00"/><stop offset="0.936" stop-color="#e24700"/><stop offset="1.000" stop-color="#e44800"/></linearGradient>
<linearGradient id="g156" gradientUnits="userSpaceOnUse" x1="324.80" x2="497.50" y1="0" y2="0"><stop offset="0.000" stop-color="#fffee1"/><stop offset="0.145" stop-color="#fff2af"/><stop offset="0.214" stop-color="#ffe38b"/><stop offset="0.272" stop-color="#ffcc53"/><stop offset="0.295" stop-color="#ffc13e"/><stop offset="0.370" stop-color="#ff9309"/><stop offset="0.399" stop-color="#ff8400"/><stop offset="0.474" stop-color="#fd5f00"/><stop offset="0.549" stop-color="#e04600"/><stop offset="0.624" stop-color="#c73b00"/><stop offset="0.717" stop-color="#c63a00"/><stop offset="0.925" stop-color="#dd4400"/><stop offset="1.000" stop-color="#e04600"/></linearGradient>
<linearGradient id="g157" gradientUnits="userSpaceOnUse" x1="324.80" x2="497.50" y1="0" y2="0"><stop offset="0.000" stop-color="#ffffe2"/><stop offset="0.150" stop-color="#fff2ae"/><stop offset="0.220" stop-color="#ffe288"/><stop offset="0.272" stop-color="#ffcd56"/><stop offset="0.295" stop-color="#ffc23f"/><stop offset="0.376" stop-color="#ff9107"/><stop offset="0.405" stop-color="#ff8100"/><stop offset="0.474" stop-color="#fd5f00"/><stop offset="0.549" stop-color="#e04600"/><stop offset="0.624" stop-color="#c73b00"/><stop offset="0.705" stop-color="#c23800"/><stop offset="0.954" stop-color="#db4400"/><stop offset="1.000" stop-color="#dd4400"/></linearGradient>
<linearGradient id="g158" gradientUnits="userSpaceOnUse" x1="324.80" x2="497.50" y1="0" y2="0"><stop offset="0.000" stop-color="#ffffe2"/><stop offset="0.150" stop-color="#fff2af"/><stop offset="0.220" stop-color="#ffe38b"/><stop offset="0.272" stop-color="#ffce58"/><stop offset="0.295" stop-color="#ffc441"/><stop offset="0.376" stop-color="#ff9208"/><stop offset="0.405" stop-color="#ff8200"/><stop offset="0.474" stop-color="#fe6100"/><stop offset="0.543" stop-color="#e24700"/><stop offset="0.630" stop-color="#c63a00"/><stop offset="0.711" stop-color="#c03700"/><stop offset="0.948" stop-color="#d84200"/><stop offset="1.000" stop-color="#d94300"/></linearGradient>
<linearGradient id="g159" gradientUnits="userSpaceOnUse" x1="324.80" x2="497.50" y1="0" y2="0"><stop offset="0.000" stop-color="#ffffe2"/><stop offset="0.156" stop-color="#fff2ae"/><stop offset="0.225" stop-color="#ffe288"/><stop offset="0.283" stop-color="#ffca4e"/><stop offset="0.301" stop-color="#ffc13e"/><stop offset="0.376" stop-color="#ff9309"/><stop offset="0.405" stop-color="#ff8400"/><stop offset="0.480" stop-color="#fb5e00"/><stop offset="0.549" stop-color="#e04600"/><stop offset="0.630" stop-color="#c63a00"/><stop offset="0.717" stop-color="#c03700"/><stop offset="0.983" stop-color="#d84200"/><stop offset="1.000" stop-color="#d84200"/></linearGradient>
<linearGradient id="g160" gradientUnits="userSpaceOnUse" x1="324.80" x2="497.50" y1="0" y2="0"><stop offset="0.000" stop-color="#ffffe2"/><stop offset="0.145" stop-color="#fff4b3"/><stop offset="0.225" stop-color="#ffe38b"/><stop offset="0.289" stop-color="#ffc849"/><stop offset="0.329" stop-color="#ffaf2b"/><stop offset="0.382" stop-color="#ff9107"/><stop offset="0.410" stop-color="#ff8100"/><stop offset="0.480" stop-color="#fd5f00"/><stop offset="0.549" stop-color="#e24700"/><stop offset="0.624" stop-color="#c93b00"/><stop offset="0.694" stop-color="#c03700"/><stop offset="0.809" stop-color="#c63a00"/><stop offset="0.965" stop-color="#d44000"/><stop offset="1.000" stop-color="#d64100"/></linearGradient>
<linearGradient id="g161" gradientUnits="userSpaceOnUse" x1="324.80" x2="497.50" y1="0" y2="0"><stop offset="0.000" stop-color="#ffffe3"/><stop offset="0.145" stop-color="#fff5b5"/><stop offset="0.225" stop-color="#ffe48d"/><stop offset="0.289" stop-color="#ffc94c"/><stop offset="0.312" stop-color="#ffbc38"/><stop offset="0.382" stop-color="#ff9208"/><stop offset="0.410" stop-color="#ff8200"/><stop offset="0.480" stop-color="#fd5f00"/><stop offset="0.555" stop-color="#e04600"/><stop offset="0.653" stop-color="#c43900"/><stop offset="0.751" stop-color="#c03700"/><stop offset="0.988" stop-color="#d44000"/><stop offset="1.000" stop-color="#d44000"/></linearGradient>
<linearGradient id="g162" gradientUnits="userSpaceOnUse" x1="324.80" x2="497.50" y1="0" y2="0"><stop offset="0.000" stop-color="#ffffe3"/><stop offset="0.139" stop-color="#fff7b9"/><stop offset="0.220" stop-color="#ffe693"/><stop offset="0.272" stop-color="#ffd162"/><stop offset="0.301" stop-color="#ffc542"/><stop offset="0.364" stop-color="#ff9e14"/><stop offset="0.399" stop-color="#ff8a02"/><stop offset="0.480" stop-color="#fe6100"/><stop offset="0.555" stop-color="#e24700"/><stop offset="0.653" stop-color="#c63a00"/><stop offset="0.740" stop-color="#c03700"/><stop offset="0.884" stop-color="#cb3c00"/><stop offset="1.000" stop-color="#d24000"/></linearGradient>
<linearGradient id="g163" gradientUnits="userSpaceOnUse" x1="324.80" x2="497.50" y1="0" y2="0"><stop offset="0.000" stop-color="#ffffe3"/><stop offset="0.116" stop-color="#fff9c2"/><stop offset="0.208" stop-color="#ffe99a"/><stop offset="0.237" stop-color="#ffe288"/><stop offset="0.306" stop-color="#ffc23f"/><stop offset="0.370" stop-color="#ff9c12"/><stop offset="0.405" stop-color="#ff8901"/><stop offset="0.486" stop-color="#fd5f00"/><stop offset="0.561" stop-color="#e24700"/><stop offset="0.653" stop-color="#c73b00"/><stop offset="0.734" stop-color="#c03700"/><stop offset="0.861" stop-color="#c73b00"/><stop offset="0.994" stop-color="#d24000"/><stop offset="1.000" stop-color="#d24000"/></linearGradient>
<linearGradient id="g164" gradientUnits="userSpaceOnUse" x1="324.80" x2="497.50" y1="0" y2="0"><stop offset="0.000" stop-color="#ffffe3"/><stop offset="0.104" stop-color="#fffac8"/><stop offset="0.208" stop-color="#ffea9d"/><stop offset="0.249" stop-color="#ffde7f"/><stop offset="0.306" stop-color="#ffc441"/><stop offset="0.370" stop-color="#ff9e14"/><stop offset="0.405" stop-color="#ff8a02"/><stop offset="0.486" stop-color="#fe6100"/><stop offset="0.561" stop-color="#e44800"/><stop offset="0.665" stop-color="#c73b00"/><stop offset="0.763" stop-color="#c23800"/><stop offset="0.884" stop-color="#c93b00"/><stop offset="0.988" stop-color="#d03f00"/><stop offset="1.000" stop-color="#d03f00"/></linearGradient>
<linearGradient id="g165" gradientUnits="userSpaceOnUse" x1="324.80" x2="497.50" y1="0" y2="0"><stop offset="0.000" stop-color="#ffffe3"/><stop offset="0.092" stop-color="#fffbcd"/><stop offset="0.191" stop-color="#ffefa7"/><stop offset="0.237" stop-color="#ffe48d"/><stop offset="0.306" stop-color="#ffc644"/><stop offset="0.370" stop-color="#ff9f16"/><stop offset="0.399" stop-color="#ff8e05"/><stop offset="0.428" stop-color="#ff7e00"/><stop offset="0.491" stop-color="#fd5f00"/><stop offset="0.566" stop-color="#e64800"/><stop offset="0.671" stop-color="#c93b00"/><stop offset="0.757" stop-color="#c43900"/><stop offset="0.879" stop-color="#c73b00"/><stop offset="0.988" stop-color="#d03f00"/><stop offset="1.000" stop-color="#d03f00"/></linearGradient>
<linearGradient id="g166" gradientUnits="userSpaceOnUse" x1="324.80" x2="497.50" y1="0" y2="0"><stop offset="0.000" stop-color="#ffffe3"/><stop offset="0.110" stop-color="#fffac9"/><stop offset="0.197" stop-color="#ffeea5"/><stop offset="0.243" stop-color="#ffe38b"/><stop offset="0.312" stop-color="#ffc542"/><stop offset="0.370" stop-color="#ffa118"/><stop offset="0.405" stop-color="#ff8d04"/><stop offset="0.474" stop-color="#ff6900"/><stop offset="0.526" stop-color="#f35500"/><stop offset="0.618" stop-color="#d94300"/><stop offset="0.705" stop-color="#c73b00"/><stop offset="0.879" stop-color="#c73b00"/><stop offset="0.988" stop-color="#d03f00"/><stop offset="1.000" stop-color="#d03f00"/></linearGradient>
<linearGradient id="g167" gradientUnits="userSpaceOnUse" x1="324.80" x2="497.50" y1="0" y2="0"><stop offset="0.000" stop-color="#ffffe3"/><stop offset="0.110" stop-color="#fffaca"/><stop offset="0.202" stop-color="#ffeda4"/><stop offset="0.249" stop-color="#ffe186"/><stop offset="0.324" stop-color="#ffc03c"/><stop offset="0.399" stop-color="#ff9107"/><stop offset="0.428" stop-color="#ff8100"/><stop offset="0.503" stop-color="#fb5e00"/><stop offset="0.595" stop-color="#e24700"/><stop offset="0.705" stop-color="#c93b00"/><stop offset="0.873" stop-color="#c73b00"/><stop offset="1.000" stop-color="#d24000"/></linearGradient>
<linearGradient id="g168" gradientUnits="userSpaceOnUse" x1="324.80" x2="497.50" y1="0" y2="0"><stop offset="0.000" stop-color="#ffffe5"/><stop offset="0.116" stop-color="#fffaca"/><stop offset="0.208" stop-color="#ffeda4"/><stop offset="0.254" stop-color="#ffe084"/><stop offset="0.306" stop-color="#ffcb51"/><stop offset="0.318" stop-color="#ffc542"/><stop offset="0.399" stop-color="#ff9309"/><stop offset="0.434" stop-color="#ff8000"/><stop offset="0.509" stop-color="#fb5e00"/><stop offset="0.607" stop-color="#e24700"/><stop offset="0.717" stop-color="#cb3c00"/><stop offset="0.884" stop-color="#c93b00"/><stop offset="1.000" stop-color="#d24000"/></linearGradient>
<linearGradient id="g169" gradientUnits="userSpaceOnUse" x1="324.80" x2="497.50" y1="0" y2="0"><stop offset="0.000" stop-color="#ffffe5"/><stop offset="0.133" stop-color="#fff9c6"/><stop offset="0.220" stop-color="#ffeca0"/><stop offset="0.266" stop-color="#ffdd7d"/><stop offset="0.329" stop-color="#ffc03c"/><stop offset="0.399" stop-color="#ff950a"/><stop offset="0.428" stop-color="#ff8500"/><stop offset="0.509" stop-color="#fe6100"/><stop offset="0.618" stop-color="#e24700"/><stop offset="0.728" stop-color="#cd3d00"/><stop offset="0.902" stop-color="#cb3c00"/><stop offset="1.000" stop-color="#d24000"/></linearGradient>
<linearGradient id="g170" gradientUnits="userSpaceOnUse" x1="324.80" x2="497.50" y1="0" y2="0"><stop offset="0.000" stop-color="#ffffe5"/><stop offset="0.127" stop-color="#fffaca"/><stop offset="0.214" stop-color="#ffeda4"/><stop offset="0.260" stop-color="#ffe288"/><stop offset="0.318" stop-color="#ffc849"/><stop offset="0.399" stop-color="#ff960b"/><stop offset="0.434" stop-color="#ff8400"/><stop offset="0.520" stop-color="#fd5f00"/><stop offset="0.624" stop-color="#e64800"/><stop offset="0.734" stop-color="#cf3e00"/><stop offset="0.908" stop-color="#cd3d00"/><stop offset="1.000" stop-color="#d44000"/></linearGradient>
<linearGradient id="g171" gradientUnits="userSpaceOnUse" x1="324.80" x2="497.50" y1="0" y2="0"><stop offset="0.000" stop-color="#ffffe5"/><stop offset="0.127" stop-color="#fffacc"/><stop offset="0.208" stop-color="#fff0a9"/><stop offset="0.266" stop-color="#ffe186"/><stop offset="0.335" stop-color="#ffc03c"/><stop offset="0.405" stop-color="#ff950a"/><stop offset="0.439" stop-color="#ff8200"/><stop offset="0.526" stop-color="#fe6100"/><stop offset="0.653" stop-color="#e24700"/><stop offset="0.757" stop-color="#d03f00"/><stop offset="0.913" stop-color="#cf3e00"/><stop offset="1.000" stop-color="#d44000"/></linearGradient>
<linearGradient id="g172" gradientUnits="userSpaceOnUse" x1="324.80" x2="497.50" y1="0" y2="0"><stop offset="0.000" stop-color="#ffffe5"/><stop offset="0.133" stop-color="#fffacc"/><stop offset="0.214" stop-color="#fff0a9"/><stop offset="0.260" stop-color="#ffe48f"/><stop offset="0.318" stop-color="#ffcb51"/><stop offset="0.335" stop-color="#ffc13e"/><stop offset="0.410" stop-color="#ff9309"/><stop offset="0.445" stop-color="#ff8100"/><stop offset="0.543" stop-color="#fb5e00"/><stop offset="0.665" stop-color="#e24700"/><stop offset="0.775" stop-color="#d24000"/><stop offset="0.954" stop-color="#d24000"/><stop offset="1.000" stop-color="#d64100"/></linearGradient>
<linearGradient id="g173" gradientUnits="userSpaceOnUse" x1="324.80" x2="497.50" y1="0" y2="0"><stop offset="0.000" stop-color="#ffffe5"/><stop offset="0.133" stop-color="#fffbcd"/><stop offset="0.208" stop-color="#fff2af"/><stop offset="0.266" stop-color="#ffe48d"/><stop offset="0.324" stop-color="#ffc94c"/><stop offset="0.353" stop-color="#ffb734"/><stop offset="0.410" stop-color="#ff950a"/><stop offset="0.445" stop-color="#ff8400"/><stop offset="0.538" stop-color="#ff6300"/><stop offset="0.665" stop-color="#e84900"/><stop offset="0.769" stop-color="#d64100"/><stop offset="0.919" stop-color="#d24000"/><stop offset="1.000" stop-color="#d84200"/></linearGradient>
<linearGradient id="g174" gradientUnits="userSpaceOnUse" x1="324.80" x2="497.50" y1="0" y2="0"><stop offset="0.000" stop-color="#ffffe5"/><stop offset="0.133" stop-color="#fffbce"/><stop offset="0.202" stop-color="#fff5b5"/><stop offset="0.272" stop-color="#ffe38b"/><stop offset="0.341" stop-color="#ffc13e"/><stop offset="0.410" stop-color="#ff970c"/><stop offset="0.451" stop-color="#ff8400"/><stop offset="0.543" stop-color="#ff6400"/><stop offset="0.688" stop-color="#e64800"/><stop offset="0.803" stop-color="#d64100"/><stop offset="0.965" stop-color="#d64100"/><stop offset="1.000" stop-color="#d84200"/></linearGradient>
<linearGradient id="cba" x1="0" x2="0" y1="0" y2="1"><stop offset="0.000" stop-color="#762000"/><stop offset="0.031" stop-color="#832400"/><stop offset="0.062" stop-color="#922800"/><stop offset="0.094" stop-color="#a12c00"/><stop offset="0.125" stop-color="#b03000"/><stop offset="0.156" stop-color="#be3700"/><stop offset="0.188" stop-color="#cd3d00"/><stop offset="0.219" stop-color="#db4400"/><stop offset="0.250" stop-color="#e94a00"/><stop offset="0.281" stop-color="#f25300"/><stop offset="0.312" stop-color="#fa5d00"/><stop offset="0.344" stop-color="#ff6600"/><stop offset="0.375" stop-color="#ff7000"/><stop offset="0.406" stop-color="#ff7a00"/><stop offset="0.438" stop-color="#ff8500"/><stop offset="0.469" stop-color="#ff8f06"/><stop offset="0.500" stop-color="#ff9a0e"/><stop offset="0.531" stop-color="#ffa51e"/><stop offset="0.562" stop-color="#ffaf2b"/><stop offset="0.594" stop-color="#ffba37"/><stop offset="0.625" stop-color="#ffc542"/><stop offset="0.656" stop-color="#ffcd56"/><stop offset="0.688" stop-color="#ffd469"/><stop offset="0.719" stop-color="#ffdc7b"/><stop offset="0.750" stop-color="#ffe48d"/><stop offset="0.781" stop-color="#ffe999"/><stop offset="0.812" stop-color="#ffeda4"/><stop offset="0.844" stop-color="#fff2af"/><stop offset="0.875" stop-color="#fff7ba"/><stop offset="0.906" stop-color="#fff9c5"/><stop offset="0.938" stop-color="#fffbd0"/><stop offset="0.969" stop-color="#fffdda"/><stop offset="1.000" stop-color="#ffffe5"/></linearGradient>
<linearGradient id="cbb" x1="0" x2="0" y1="0" y2="1"><stop offset="0.000" stop-color="#762000"/><stop offset="0.031" stop-color="#832400"/><stop offset="0.062" stop-color="#922800"/><stop offset="0.094" stop-color="#a12c00"/><stop offset="0.125" stop-color="#b03000"/><stop offset="0.156" stop-color="#be3700"/><stop offset="0.188" stop-color="#cd3d00"/><stop offset="0.219" stop-color="#db4400"/><stop offset="0.250" stop-color="#e94a00"/><stop offset="0.281" stop-color="#f25300"/><stop offset="0.312" stop-color="#fa5d00"/><stop offset="0.344" stop-color="#ff6600"/><stop offset="0.375" stop-color="#ff7000"/><stop offset="0.406" stop-color="#ff7a00"/><stop offset="0.438" stop-color="#ff8500"/><stop offset="0.469" stop-color="#ff8f06"/><stop offset="0.500" stop-color="#ff9a0e"/><stop offset="0.531" stop-color="#ffa51e"/><stop offset="0.562" stop-color="#ffaf2b"/><stop offset="0.594" stop-color="#ffba37"/><stop offset="0.625" stop-color="#ffc542"/><stop offset="0.656" stop-color="#ffcd56"/><stop offset="0.688" stop-color="#ffd469"/><stop offset="0.719" stop-color="#ffdc7b"/><stop offset="0.750" stop-color="#ffe48d"/><stop offset="0.781" stop-color="#ffe999"/><stop offset="0.812" stop-color="#ffeda4"/><stop offset="0.844" stop-color="#fff2af"/><stop offset="0.875" stop-color="#fff7ba"/><stop offset="0.906" stop-color="#fff9c5"/><stop offset="0.938" stop-color="#fffbd0"/><stop offset="0.969" stop-color="#fffdda"/><stop offset="1.000" stop-color="#ffffe5"/></linearGradient></defs>
<rect width="550" height="457" fill="#fff"/>
<g shape-rendering="crispEdges">
<rect x="48.30" y="9" width="172.70" height="2" fill="url(#g1)"/>
<rect x="48.30" y="11" width="172.70" height="2" fill="url(#g2)"/>
<rect x="48.30" y="13" width="172.70" height="2" fill="url(#g3)"/>
<rect x="48.30" y="15" width="172.70" height="2" fill="url(#g4)"/>
<rect x="48.30" y="17" width="172.70" height="2" fill="url(#g5)"/>
<rect x="48.30" y="19" width="172.70" height="2" fill="url(#g6)"/>
<rect x="48.30" y="21" width="172.70" height="2" fill="url(#g7)"/>
<rect x="48.30" y="23" width="172.70" height="2" fill="url(#g8)"/>
<rect x="48.30" y="25" width="172.70" height="2" fill="url(#g9)"/>
<rect x="48.30" y="27" width="172.70" height="2" fill="url(#g10)"/>
<rect x="48.30" y="29" width="172.70" height="2" fill="url(#g11)"/>
<rect x="48.30" y="31" width="172.70" height="2" fill="url(#g12)"/>
<rect x="48.30" y="33" width="172.70" height="2" fill="url(#g13)"/>
<rect x="48.30" y="35" width="172.70" height="2" fill="url(#g14)"/>
<rect x="48.30" y="37" width="172.70" height="2" fill="url(#g15)"/>
<rect x="48.30" y="39" width="172.70" height="2" fill="url(#g16)"/>
<rect x="48.30" y="41" width="172.70" height="2" fill="url(#g17)"/>
<rect x="48.30" y="43" width="172.70" height="2" fill="url(#g18)"/>
<rect x="48.30" y="45" width="172.70" height="2" fill="url(#g19)"/>
<rect x="48.30" y="47" width="172.70" height="2" fill="url(#g20)"/>
<rect x="48.30" y="49" width="172.70" height="2" fill="url(#g21)"/>
<rect x="48.30" y="51" width="172.70" height="2" fill="url(#g22)"/>
<rect x="48.30" y="53" width="172.70" height="2" fill="url(#g23)"/>
<rect x="48.30" y="55" width="172.70" height="2" fill="url(#g24)"/>
<rect x="48.30" y="57" width="172.70" height="2" fill="url(#g25)"/>
<rect x="48.30" y="59" width="172.70" height="2" fill="url(#g26)"/>
<rect x="48.30" y="61" width="172.70" height="2" fill="url(#g27)"/>
<rect x="48.30" y="63" width="172.70" height="2" fill="url(#g28)"/>
<rect x="48.30" y="65" width="172.70" height="2" fill="url(#g29)"/>
<rect x="48.30" y="67" width="172.70" height="2" fill="url(#g30)"/>
<rect x="48.30" y="69" width="172.70" height="2" fill="url(#g31)"/>
<rect x="48.30" y="71" width="172.70" height="2" fill="url(#g32)"/>
<rect x="48.30" y="73" width="172.70" height="2" fill="url(#g33)"/>
<rect x="48.30" y="75" width="172.70" height="2" fill="url(#g34)"/>
<rect x="48.30" y="77" width="172.70" height="2" fill="url(#g35)"/>
<rect x="48.30" y="79" width="172.70" height="2" fill="url(#g36)"/>
<rect x="48.30" y="81" width="172.70" height="2" fill="url(#g37)"/>
<rect x="48.30" y="83" width="172.70" height="2" fill="url(#g38)"/>
<rect x="48.30" y="85" width="172.70" height="2" fill="url(#g39)"/>
<rect x="48.30" y="87" width="172.70" height="2" fill="url(#g40)"/>
<rect x="48.30" y="89" width="172.70" height="2" fill="url(#g41)"/>
<rect x="48.30" y="91" width="172.70" height="2" fill="url(#g42)"/>
<rect x="48.30" y="93" width="172.70" height="2" fill="url(#g43)"/>
<rect x="48.30" y="95" width="172.70" height="2" fill="url(#g44)"/>
<rect x="48.30" y="97" width="172.70" height="2" fill="url(#g45)"/>
<rect x="48.30" y="99" width="172.70" height="2" fill="url(#g46)"/>
<rect x="48.30" y="101" width="172.70" height="2" fill="url(#g47)"/>
<rect x="48.30" y="103" width="172.70" height="2" fill="url(#g48)"/>
<rect x="48.30" y="105" width="172.70" height="2" fill="url(#g49)"/>
<rect x="48.30" y="107" width="172.70" height="2" fill="url(#g50)"/>
<rect x="48.30" y="109" width="172.70" height="2" fill="url(#g51)"/>
<rect x="48.30" y="111" width="172.70" height="2" fill="url(#g52)"/>
<rect x="48.30" y="113" width="172.70" height="2" fill="url(#g53)"/>
<rect x="48.30" y="115" width="172.70" height="2" fill="url(#g54)"/>
<rect x="48.30" y="117" width="172.70" height="2" fill="url(#g55)"/>
<rect x="48.30" y="119" width="172.70" height="2" fill="url(#g56)"/>
<rect x="48.30" y="121" width="172.70" height="2" fill="url(#g57)"/>
<rect x="48.30" y="123" width="172.70" height="2" fill="url(#g58)"/>
<rect x="48.30" y="125" width="172.70" height="2" fill="url(#g59)"/>
<rect x="48.30" y="127" width="172.70" height="2" fill="url(#g60)"/>
<rect x="48.30" y="129" width="172.70" height="2" fill="url(#g61)"/>
<rect x="48.30" y="131" width="172.70" height="2" fill="url(#g62)"/>
<rect x="48.30" y="133" width="172.70" height="2" fill="url(#g63)"/>
<rect x="48.30" y="135" width="172.70" height="2" fill="url(#g64)"/>
<rect x="48.30" y="137" width="172.70" height="2" fill="url(#g65)"/>
<rect x="48.30" y="139" width="172.70" height="2" fill="url(#g66)"/>
<rect x="48.30" y="141" width="172.70" height="2" fill="url(#g67)"/>
<rect x="48.30" y="143" width="172.70" height="2" fill="url(#g68)"/>
<rect x="48.30" y="145" width="172.70" height="2" fill="url(#g69)"/>
<rect x="48.30" y="147" width="172.70" height="2" fill="url(#g70)"/>
<rect x="48.30" y="149" width="172.70" height="2" fill="url(#g71)"/>
<rect x="48.30" y="151" width="172.70" height="2" fill="url(#g72)"/>
<rect x="48.30" y="153" width="172.70" height="2" fill="url(#g73)"/>
<rect x="48.30" y="155" width="172.70" height="2" fill="url(#g74)"/>
<rect x="48.30" y="157" width="172.70" height="2" fill="url(#g75)"/>
<rect x="48.30" y="159" width="172.70" height="2" fill="url(#g76)"/>
<rect x="48.30" y="161" width="172.70" height="2" fill="url(#g77)"/>
<rect x="48.30" y="163" width="172.70" height="2" fill="url(#g78)"/>
<rect x="48.30" y="165" width="172.70" height="2" fill="url(#g79)"/>
<rect x="48.30" y="167" width="172.70" height="2" fill="url(#g80)"/>
<rect x="48.30" y="169" width="172.70" height="2" fill="url(#g81)"/>
<rect x="48.30" y="171" width="172.70" height="2" fill="url(#g82)"/>
<rect x="48.30" y="173" width="172.70" height="2" fill="url(#g83)"/>
<rect x="48.30" y="175" width="172.70" height="2" fill="url(#g84)"/>
<rect x="48.30" y="177" width="172.70" height="2" fill="url(#g85)"/>
<rect x="48.30" y="179" width="172.70" height="2" fill="url(#g86)"/>
<rect x="48.30" y="181" width="172.70" height="2" fill="url(#g87)"/>
</g>
<g shape-rendering="crispEdges">
<rect x="324.80" y="9" width="172.70" height="2" fill="url(#g88)"/>
<rect x="324.80" y="11" width="172.70" height="2" fill="url(#g89)"/>
<rect x="324.80" y="13" width="172.70" height="2" fill="url(#g90)"/>
<rect x="324.80" y="15" width="172.70" height="2" fill="url(#g91)"/>
<rect x="324.80" y="17" width="172.70" height="2" fill="url(#g92)"/>
<rect x="324.80" y="19" width="172.70" height="2" fill="url(#g93)"/>
<rect x="324.80" y="21" width="172.70" height="2" fill="url(#g94)"/>
<rect x="324.80" y="23" width="172.70" height="2" fill="url(#g95)"/>
<rect x="324.80" y="25" width="172.70" height="2" fill="url(#g96)"/>
<rect x="324.80" y="27" width="172.70" height="2" fill="url(#g97)"/>
<rect x="324.80" y="29" width="172.70" height="2" fill="url(#g98)"/>
<rect x="324.80" y="31" width="172.70" height="2" fill="url(#g99)"/>
<rect x="324.80" y="33" width="172.70" height="2" fill="url(#g100)"/>
<rect x="324.80" y="35" width="172.70" height="2" fill="url(#g101)"/>
<rect x="324.80" y="37" width="172.70" height="2" fill="url(#g102)"/>
<rect x="324.80" y="39" width="172.70" height="2" fill="url(#g103)"/>
<rect x="324.80" y="41" width="172.70" height="2" fill="url(#g104)"/>
<rect x="324.80" y="43" width="172.70" height="2" fill="url(#g105)"/>
<rect x="324.80" y="45" width="172.70" height="2" fill="url(#g106)"/>
<rect x="324.80" y="47" width="172.70" height="2" fill="url(#g107)"/>
<rect x="324.80" y="49" width="172.70" height="2" fill="url(#g108)"/>
<rect x="324.80" y="51" width="172.70" height="2" fill="url(#g109)"/>
<rect x="324.80" y="53" width="172.70" height="2" fill="url(#g110)"/>
<rect x="324.80" y="55" width="172.70" height="2" fill="url(#g111)"/>
<rect x="324.80" y="57" width="172.70" height="2" fill="url(#g112)"/>
<rect x="324.80" y="59" width="172.70" height="2" fill="url(#g113)"/>
<rect x="324.80" y="61" width="172.70" height="2" fill="url(#g114)"/>
<rect x="324.80" y="63" width="172.70" height="2" fill="url(#g115)"/>
<rect x="324.80" y="65" width="172.70" height="2" fill="url(#g116)"/>
<rect x="324.80" y="67" width="172.70" height="2" fill="url(#g117)"/>
<rect x="324.80" y="69" width="172.70" height="2" fill="url(#g118)"/>
<rect x="324.80" y="71" width="172.70" height="2" fill="url(#g119)"/>
<rect x="324.80" y="73" width="172.70" height="2" fill="url(#g120)"/>
<rect x="324.80" y="75" width="172.70" height="2" fill="url(#g121)"/>
<rect x="324.80" y="77" width="172.70" height="2" fill="url(#g122)"/>
<rect x="324.80" y="79" width="172.70" height="2" fill="url(#g123)"/>
<rect x="324.80" y="81" width="172.70" height="2" fill="url(#g124)"/>
<rect x="324.80" y="83" width="172.70" height="2" fill="url(#g125)"/>
<rect x="324.80" y="85" width="172.70" height="2" fill="url(#g126)"/>
<rect x="324.80" y="87" width="172.70" height="2" fill="url(#g127)"/>
<rect x="324.80" y="89" width="172.70" height="2" fill="url(#g128)"/>
<rect x="324.80" y="91" width="172.70" height="2" fill="url(#g129)"/>
<rect x="324.80" y="93" width="172.70" height="2" fill="url(#g130)"/>
<rect x="324.80" y="95" width="172.70" height="2" fill="url(#g131)"/>
<rect x="324.80" y="97" width="172.70" height="2" fill="url(#g132)"/>
<rect x="324.80" y="99" width="172.70" height="2" fill="url(#g133)"/>
<rect x="324.80" y="101" width="172.70" height="2" fill="url(#g134)"/>
<rect x="324.80" y="103" width="172.70" height="2" fill="url(#g135)"/>
<rect x="324.80" y="105" width="172.70" height="2" fill="url(#g136)"/>
<rect x="324.80" y="107" width="172.70" height="2" fill="url(#g137)"/>
<rect x="324.80" y="109" width="172.70" height="2" fill="url(#g138)"/>
<rect x="324.80" y="111" width="172.70" height="2" fill="url(#g139)"/>
<rect x="324.80" y="113" width="172.70" height="2" fill="url(#g140)"/>
<rect x="324.80" y="115" width="172.70" height="2" fill="url(#g141)"/>
<rect x="324.80" y="117" width="172.70" height="2" fill="url(#g142)"/>
<rect x="324.80" y="119" width="172.70" height="2" fill="url(#g143)"/>
<rect x="324.80" y="121" width="172.70" height="2" fill="url(#g144)"/>
<rect x="324.80" y="123" width="172.70" height="2" fill="url(#g145)"/>
<rect x="324.80" y="125" width="172.70" height="2" fill="url(#g146)"/>
<rect x="324.80" y="127" width="172.70" height="2" fill="url(#g147)"/>
<rect x="324.80" y="129" width="172.70" height="2" fill="url(#g148)"/>
<rect x="324.80" y="131" width="172.70" height="2" fill="url(#g149)"/>
<rect x="324.80" y="133" width="172.70" height="2" fill="url(#g150)"/>
<rect x="324.80" y="135" width="172.70" height="2" fill="url(#g151)"/>
<rect x="324.80" y="137" width="172.70" height="2" fill="url(#g152)"/>
<rect x="324.80" y="139" width="172.70" height="2" fill="url(#g153)"/>
<rect x="324.80" y="141" width="172.70" height="2" fill="url(#g154)"/>
<rect x="324.80" y="143" width="172.70" height="2" fill="url(#g155)"/>
<rect x="324.80" y="145" width="172.70" height="2" fill="url(#g156)"/>
<rect x="324.80" y="147" width="172.70" height="2" fill="url(#g157)"/>
<rect x="324.80" y="149" width="172.70" height="2" fill="url(#g158)"/>
<rect x="324.80" y="151" width="172.70" height="2" fill="url(#g159)"/>
<rect x="324.80" y="153" width="172.70" height="2" fill="url(#g160)"/>
<rect x="324.80" y="155" width="172.70" height="2" fill="url(#g161)"/>
<rect x="324.80" y="157" width="172.70" height="2" fill="url(#g162)"/>
<rect x="324.80" y="159" width="172.70" height="2" fill="url(#g163)"/>
<rect x="324.80" y="161" width="172.70" height="2" fill="url(#g164)"/>
<rect x="324.80" y="163" width="172.70" height="2" fill="url(#g165)"/>
<rect x="324.80" y="165" width="172.70" height="2" fill="url(#g166)"/>
<rect x="324.80" y="167" width="172.70" height="2" fill="url(#g167)"/>
<rect x="324.80" y="169" width="172.70" height="2" fill="url(#g168)"/>
<rect x="324.80" y="171" width="172.70" height="2" fill="url(#g169)"/>
<rect x="324.80" y="173" width="172.70" height="2" fill="url(#g170)"/>
<rect x="324.80" y="175" width="172.70" height="2" fill="url(#g171)"/>
<rect x="324.80" y="177" width="172.70" height="2" fill="url(#g172)"/>
<rect x="324.80" y="179" width="172.70" height="2" fill="url(#g173)"/>
<rect x="324.80" y="181" width="172.70" height="2" fill="url(#g174)"/>
</g>
<rect x="48.30" y="9.30" width="172.70" height="173.20" fill="none" stroke="#000" stroke-width="0.80"/>
<line x1="48.30" x2="48.30" y1="182.50" y2="186.00" stroke="#000" stroke-width="0.80"/>
<text transform="translate(45.50 197.50) scale(0.9551 1)" font-size="10.60">3</text>
<line x1="82.84" x2="82.84" y1="182.50" y2="186.00" stroke="#000" stroke-width="0.80"/>
<text transform="translate(79.95 197.50) scale(0.9728 1)" font-size="10.60">7</text>
<line x1="117.38" x2="117.38" y1="182.50" y2="186.00" stroke="#000" stroke-width="0.80"/>
<text transform="translate(111.29 197.50) scale(1.0227 1)" font-size="10.60">11</text>
<line x1="151.92" x2="151.92" y1="182.50" y2="186.00" stroke="#000" stroke-width="0.80"/>
<text transform="translate(145.83 197.50) scale(1.0203 1)" font-size="10.60">15</text>
<line x1="186.46" x2="186.46" y1="182.50" y2="186.00" stroke="#000" stroke-width="0.80"/>
<text transform="translate(180.35 197.50) scale(1.0422 1)" font-size="10.60">19</text>
<line x1="221.00" x2="221.00" y1="182.50" y2="186.00" stroke="#000" stroke-width="0.80"/>
<text transform="translate(214.82 197.50) scale(1.0371 1)" font-size="10.60">23</text>
<line x1="44.80" x2="48.30" y1="182.50" y2="182.50" stroke="#000" stroke-width="0.80"/>
<text transform="translate(18.48 186.14) scale(1.0560 1)" font-size="10.60">1.14</text>
<line x1="44.80" x2="48.30" y1="147.86" y2="147.86" stroke="#000" stroke-width="0.80"/>
<text transform="translate(18.48 151.50) scale(1.0560 1)" font-size="10.60">1.24</text>
<line x1="44.80" x2="48.30" y1="113.22" y2="113.22" stroke="#000" stroke-width="0.80"/>
<text transform="translate(18.49 116.86) scale(1.0472 1)" font-size="10.60">1.35</text>
<line x1="44.80" x2="48.30" y1="78.58" y2="78.58" stroke="#000" stroke-width="0.80"/>
<text transform="translate(18.48 82.22) scale(1.0560 1)" font-size="10.60">1.44</text>
<line x1="44.80" x2="48.30" y1="43.94" y2="43.94" stroke="#000" stroke-width="0.80"/>
<text transform="translate(18.48 47.58) scale(1.0521 1)" font-size="10.60">1.53</text>
<line x1="44.80" x2="48.30" y1="9.30" y2="9.30" stroke="#000" stroke-width="0.80"/>
<text transform="translate(18.48 12.94) scale(1.0564 1)" font-size="10.60">1.60</text>
<rect x="227.00" y="9.30" width="17.60" height="173.20" fill="url(#cba)" stroke="#000" stroke-width="0.80"/>
<line x1="244.60" x2="248.10" y1="173.10" y2="173.10" stroke="#000" stroke-width="0.80"/>
<text transform="translate(251.82 176.74) scale(0.9586 1)" font-size="10.60">2</text>
<line x1="244.60" x2="248.10" y1="143.12" y2="143.12" stroke="#000" stroke-width="0.80"/>
<text transform="translate(251.85 146.76) scale(0.9946 1)" font-size="10.60">4</text>
<line x1="244.60" x2="248.10" y1="113.14" y2="113.14" stroke="#000" stroke-width="0.80"/>
<text transform="translate(251.74 116.78) scale(1.0293 1)" font-size="10.60">6</text>
<line x1="244.60" x2="248.10" y1="83.16" y2="83.16" stroke="#000" stroke-width="0.80"/>
<text transform="translate(251.82 86.80) scale(1.0052 1)" font-size="10.60">8</text>
<line x1="244.60" x2="248.10" y1="53.18" y2="53.18" stroke="#000" stroke-width="0.80"/>
<text transform="translate(251.86 56.82) scale(1.0372 1)" font-size="10.60">10</text>
<line x1="244.60" x2="248.10" y1="23.20" y2="23.20" stroke="#000" stroke-width="0.80"/>
<text transform="translate(251.88 26.84) scale(1.0168 1)" font-size="10.60">12</text>
<text transform="translate(111.98 211.50) scale(0.9992 1)" font-size="10.60">Pulses, N</text>
<text transform="translate(12.10 148.52) rotate(-90) scale(1.0359 1)" font-size="10.60">Fluence,</text>
<text transform="translate(12.10 103.24) rotate(-90) scale(0.9306 1)" font-size="10.60">Φ</text>
<text transform="translate(13.74 95.20) rotate(-90) scale(1.0650 1)" font-size="7.42" font-style="italic">cum</text>
<text transform="translate(12.10 76.51) rotate(-90) scale(1.0000 1)" font-size="10.60">(J/cm²)</text>
<text transform="translate(51.74 26.40) scale(1.0491 1)" font-size="14.84">(a)</text>
<text transform="translate(238.70 124.13) rotate(-90) scale(1.0774 1)" font-size="10.60">Depth (µm)</text>
<circle cx="48.30" cy="182.50" r="3.45" fill="#fff" stroke="#000" stroke-width="1.2"/>
<circle cx="82.84" cy="182.50" r="3.45" fill="#fff" stroke="#000" stroke-width="1.2"/>
<circle cx="117.38" cy="182.50" r="3.45" fill="#fff" stroke="#000" stroke-width="1.2"/>
<circle cx="151.92" cy="182.50" r="3.45" fill="#fff" stroke="#000" stroke-width="1.2"/>
<circle cx="186.46" cy="182.50" r="3.45" fill="#fff" stroke="#000" stroke-width="1.2"/>
<circle cx="221.00" cy="182.50" r="3.45" fill="#fff" stroke="#000" stroke-width="1.2"/>
<circle cx="48.30" cy="147.86" r="3.45" fill="#fff" stroke="#000" stroke-width="1.2"/>
<circle cx="82.84" cy="147.86" r="3.45" fill="#fff" stroke="#000" stroke-width="1.2"/>
<circle cx="117.38" cy="147.86" r="3.45" fill="#fff" stroke="#000" stroke-width="1.2"/>
<circle cx="151.92" cy="147.86" r="3.45" fill="#fff" stroke="#000" stroke-width="1.2"/>
<circle cx="186.46" cy="147.86" r="3.45" fill="#fff" stroke="#000" stroke-width="1.2"/>
<circle cx="221.00" cy="147.86" r="3.45" fill="#fff" stroke="#000" stroke-width="1.2"/>
<circle cx="48.30" cy="113.22" r="3.45" fill="#fff" stroke="#000" stroke-width="1.2"/>
<circle cx="82.84" cy="113.22" r="3.45" fill="#fff" stroke="#000" stroke-width="1.2"/>
<circle cx="117.38" cy="113.22" r="3.45" fill="#fff" stroke="#000" stroke-width="1.2"/>
<circle cx="151.92" cy="113.22" r="3.45" fill="#fff" stroke="#000" stroke-width="1.2"/>
<circle cx="186.46" cy="113.22" r="3.45" fill="#fff" stroke="#000" stroke-width="1.2"/>
<circle cx="221.00" cy="113.22" r="3.45" fill="#fff" stroke="#000" stroke-width="1.2"/>
<circle cx="48.30" cy="78.58" r="3.45" fill="#fff" stroke="#000" stroke-width="1.2"/>
<circle cx="82.84" cy="78.58" r="3.45" fill="#fff" stroke="#000" stroke-width="1.2"/>
<circle cx="117.38" cy="78.58" r="3.45" fill="#fff" stroke="#000" stroke-width="1.2"/>
<circle cx="151.92" cy="78.58" r="3.45" fill="#fff" stroke="#000" stroke-width="1.2"/>
<circle cx="186.46" cy="78.58" r="3.45" fill="#fff" stroke="#000" stroke-width="1.2"/>
<circle cx="221.00" cy="78.58" r="3.45" fill="#fff" stroke="#000" stroke-width="1.2"/>
<circle cx="48.30" cy="43.94" r="3.45" fill="#fff" stroke="#000" stroke-width="1.2"/>
<circle cx="82.84" cy="43.94" r="3.45" fill="#fff" stroke="#000" stroke-width="1.2"/>
<circle cx="117.38" cy="43.94" r="3.45" fill="#fff" stroke="#000" stroke-width="1.2"/>
<circle cx="151.92" cy="43.94" r="3.45" fill="#fff" stroke="#000" stroke-width="1.2"/>
<circle cx="186.46" cy="43.94" r="3.45" fill="#fff" stroke="#000" stroke-width="1.2"/>
<circle cx="221.00" cy="43.94" r="3.45" fill="#fff" stroke="#000" stroke-width="1.2"/>
<circle cx="48.30" cy="9.30" r="3.45" fill="#fff" stroke="#000" stroke-width="1.2"/>
<circle cx="82.84" cy="9.30" r="3.45" fill="#fff" stroke="#000" stroke-width="1.2"/>
<circle cx="117.38" cy="9.30" r="3.45" fill="#fff" stroke="#000" stroke-width="1.2"/>
<circle cx="151.92" cy="9.30" r="3.45" fill="#fff" stroke="#000" stroke-width="1.2"/>
<circle cx="186.46" cy="9.30" r="3.45" fill="#fff" stroke="#000" stroke-width="1.2"/>
<circle cx="221.00" cy="9.30" r="3.45" fill="#fff" stroke="#000" stroke-width="1.2"/>
<circle cx="48.30" cy="182.50" r="2.35" fill="#fff" stroke="#0000ff" stroke-width="1.3"/>
<circle cx="82.84" cy="147.86" r="2.35" fill="#fff" stroke="#0000ff" stroke-width="1.3"/>
<circle cx="117.38" cy="113.22" r="2.35" fill="#fff" stroke="#0000ff" stroke-width="1.3"/>
<circle cx="151.92" cy="78.58" r="2.35" fill="#fff" stroke="#0000ff" stroke-width="1.3"/>
<circle cx="186.46" cy="43.94" r="2.35" fill="#fff" stroke="#0000ff" stroke-width="1.3"/>
<circle cx="221.00" cy="9.30" r="2.35" fill="#fff" stroke="#0000ff" stroke-width="1.3"/>
<rect x="324.80" y="9.30" width="172.70" height="173.20" fill="none" stroke="#000" stroke-width="0.80"/>
<line x1="324.80" x2="324.80" y1="182.50" y2="186.00" stroke="#000" stroke-width="0.80"/>
<text transform="translate(322.00 197.50) scale(0.9551 1)" font-size="10.60">3</text>
<line x1="359.34" x2="359.34" y1="182.50" y2="186.00" stroke="#000" stroke-width="0.80"/>
<text transform="translate(356.45 197.50) scale(0.9728 1)" font-size="10.60">7</text>
<line x1="393.88" x2="393.88" y1="182.50" y2="186.00" stroke="#000" stroke-width="0.80"/>
<text transform="translate(387.79 197.50) scale(1.0227 1)" font-size="10.60">11</text>
<line x1="428.42" x2="428.42" y1="182.50" y2="186.00" stroke="#000" stroke-width="0.80"/>
<text transform="translate(422.33 197.50) scale(1.0203 1)" font-size="10.60">15</text>
<line x1="462.96" x2="462.96" y1="182.50" y2="186.00" stroke="#000" stroke-width="0.80"/>
<text transform="translate(456.85 197.50) scale(1.0422 1)" font-size="10.60">19</text>
<line x1="497.50" x2="497.50" y1="182.50" y2="186.00" stroke="#000" stroke-width="0.80"/>
<text transform="translate(491.32 197.50) scale(1.0371 1)" font-size="10.60">23</text>
<line x1="321.30" x2="324.80" y1="182.50" y2="182.50" stroke="#000" stroke-width="0.80"/>
<text transform="translate(294.98 186.14) scale(1.0560 1)" font-size="10.60">1.14</text>
<line x1="321.30" x2="324.80" y1="147.86" y2="147.86" stroke="#000" stroke-width="0.80"/>
<text transform="translate(294.98 151.50) scale(1.0560 1)" font-size="10.60">1.24</text>
<line x1="321.30" x2="324.80" y1="113.22" y2="113.22" stroke="#000" stroke-width="0.80"/>
<text transform="translate(294.99 116.86) scale(1.0472 1)" font-size="10.60">1.35</text>
<line x1="321.30" x2="324.80" y1="78.58" y2="78.58" stroke="#000" stroke-width="0.80"/>
<text transform="translate(294.98 82.22) scale(1.0560 1)" font-size="10.60">1.44</text>
<line x1="321.30" x2="324.80" y1="43.94" y2="43.94" stroke="#000" stroke-width="0.80"/>
<text transform="translate(294.98 47.58) scale(1.0521 1)" font-size="10.60">1.53</text>
<line x1="321.30" x2="324.80" y1="9.30" y2="9.30" stroke="#000" stroke-width="0.80"/>
<text transform="translate(294.98 12.94) scale(1.0564 1)" font-size="10.60">1.60</text>
<rect x="504.00" y="9.30" width="17.40" height="173.20" fill="url(#cbb)" stroke="#000" stroke-width="0.80"/>
<line x1="521.40" x2="524.90" y1="168.97" y2="168.97" stroke="#000" stroke-width="0.80"/>
<text transform="translate(528.73 172.61) scale(1.0308 1)" font-size="10.60">50</text>
<line x1="521.40" x2="524.90" y1="145.96" y2="145.96" stroke="#000" stroke-width="0.80"/>
<text transform="translate(528.65 149.60) scale(1.0522 1)" font-size="10.60">100</text>
<line x1="521.40" x2="524.90" y1="122.96" y2="122.96" stroke="#000" stroke-width="0.80"/>
<text transform="translate(528.65 126.60) scale(1.0522 1)" font-size="10.60">150</text>
<line x1="521.40" x2="524.90" y1="99.95" y2="99.95" stroke="#000" stroke-width="0.80"/>
<text transform="translate(528.57 103.59) scale(1.0569 1)" font-size="10.60">200</text>
<line x1="521.40" x2="524.90" y1="76.94" y2="76.94" stroke="#000" stroke-width="0.80"/>
<text transform="translate(528.57 80.58) scale(1.0569 1)" font-size="10.60">250</text>
<line x1="521.40" x2="524.90" y1="53.93" y2="53.93" stroke="#000" stroke-width="0.80"/>
<text transform="translate(528.74 57.57) scale(1.0470 1)" font-size="10.60">300</text>
<line x1="521.40" x2="524.90" y1="30.93" y2="30.93" stroke="#000" stroke-width="0.80"/>
<text transform="translate(528.74 34.57) scale(1.0470 1)" font-size="10.60">350</text>
<text transform="translate(388.48 211.50) scale(0.9992 1)" font-size="10.60">Pulses, N</text>
<text transform="translate(288.60 148.52) rotate(-90) scale(1.0359 1)" font-size="10.60">Fluence,</text>
<text transform="translate(288.60 103.24) rotate(-90) scale(0.9306 1)" font-size="10.60">Φ</text>
<text transform="translate(290.24 95.20) rotate(-90) scale(1.0650 1)" font-size="7.42" font-style="italic">cum</text>
<text transform="translate(288.60 76.51) rotate(-90) scale(1.0000 1)" font-size="10.60">(J/cm²)</text>
<text transform="translate(328.22 26.40) scale(1.0680 1)" font-size="14.84">(b)</text>
<text transform="translate(515.60 113.88) rotate(-90) scale(1.0283 1)" font-size="10.60">Sdr (%)</text>
<circle cx="324.80" cy="182.50" r="3.45" fill="#fff" stroke="#000" stroke-width="1.2"/>
<circle cx="359.34" cy="182.50" r="3.45" fill="#fff" stroke="#000" stroke-width="1.2"/>
<circle cx="393.88" cy="182.50" r="3.45" fill="#fff" stroke="#000" stroke-width="1.2"/>
<circle cx="428.42" cy="182.50" r="3.45" fill="#fff" stroke="#000" stroke-width="1.2"/>
<circle cx="462.96" cy="182.50" r="3.45" fill="#fff" stroke="#000" stroke-width="1.2"/>
<circle cx="497.50" cy="182.50" r="3.45" fill="#fff" stroke="#000" stroke-width="1.2"/>
<circle cx="324.80" cy="147.86" r="3.45" fill="#fff" stroke="#000" stroke-width="1.2"/>
<circle cx="359.34" cy="147.86" r="3.45" fill="#fff" stroke="#000" stroke-width="1.2"/>
<circle cx="393.88" cy="147.86" r="3.45" fill="#fff" stroke="#000" stroke-width="1.2"/>
<circle cx="428.42" cy="147.86" r="3.45" fill="#fff" stroke="#000" stroke-width="1.2"/>
<circle cx="462.96" cy="147.86" r="3.45" fill="#fff" stroke="#000" stroke-width="1.2"/>
<circle cx="497.50" cy="147.86" r="3.45" fill="#fff" stroke="#000" stroke-width="1.2"/>
<circle cx="324.80" cy="113.22" r="3.45" fill="#fff" stroke="#000" stroke-width="1.2"/>
<circle cx="359.34" cy="113.22" r="3.45" fill="#fff" stroke="#000" stroke-width="1.2"/>
<circle cx="393.88" cy="113.22" r="3.45" fill="#fff" stroke="#000" stroke-width="1.2"/>
<circle cx="428.42" cy="113.22" r="3.45" fill="#fff" stroke="#000" stroke-width="1.2"/>
<circle cx="462.96" cy="113.22" r="3.45" fill="#fff" stroke="#000" stroke-width="1.2"/>
<circle cx="497.50" cy="113.22" r="3.45" fill="#fff" stroke="#000" stroke-width="1.2"/>
<circle cx="324.80" cy="78.58" r="3.45" fill="#fff" stroke="#000" stroke-width="1.2"/>
<circle cx="359.34" cy="78.58" r="3.45" fill="#fff" stroke="#000" stroke-width="1.2"/>
<circle cx="393.88" cy="78.58" r="3.45" fill="#fff" stroke="#000" stroke-width="1.2"/>
<circle cx="428.42" cy="78.58" r="3.45" fill="#fff" stroke="#000" stroke-width="1.2"/>
<circle cx="462.96" cy="78.58" r="3.45" fill="#fff" stroke="#000" stroke-width="1.2"/>
<circle cx="497.50" cy="78.58" r="3.45" fill="#fff" stroke="#000" stroke-width="1.2"/>
<circle cx="324.80" cy="43.94" r="3.45" fill="#fff" stroke="#000" stroke-width="1.2"/>
<circle cx="359.34" cy="43.94" r="3.45" fill="#fff" stroke="#000" stroke-width="1.2"/>
<circle cx="393.88" cy="43.94" r="3.45" fill="#fff" stroke="#000" stroke-width="1.2"/>
<circle cx="428.42" cy="43.94" r="3.45" fill="#fff" stroke="#000" stroke-width="1.2"/>
<circle cx="462.96" cy="43.94" r="3.45" fill="#fff" stroke="#000" stroke-width="1.2"/>
<circle cx="497.50" cy="43.94" r="3.45" fill="#fff" stroke="#000" stroke-width="1.2"/>
<circle cx="324.80" cy="9.30" r="3.45" fill="#fff" stroke="#000" stroke-width="1.2"/>
<circle cx="359.34" cy="9.30" r="3.45" fill="#fff" stroke="#000" stroke-width="1.2"/>
<circle cx="393.88" cy="9.30" r="3.45" fill="#fff" stroke="#000" stroke-width="1.2"/>
<circle cx="428.42" cy="9.30" r="3.45" fill="#fff" stroke="#000" stroke-width="1.2"/>
<circle cx="462.96" cy="9.30" r="3.45" fill="#fff" stroke="#000" stroke-width="1.2"/>
<circle cx="497.50" cy="9.30" r="3.45" fill="#fff" stroke="#000" stroke-width="1.2"/>
<circle cx="324.80" cy="182.50" r="2.35" fill="#fff" stroke="#0000ff" stroke-width="1.3"/>
<circle cx="359.34" cy="147.86" r="2.35" fill="#fff" stroke="#0000ff" stroke-width="1.3"/>
<circle cx="393.88" cy="113.22" r="2.35" fill="#fff" stroke="#0000ff" stroke-width="1.3"/>
<circle cx="428.42" cy="78.58" r="2.35" fill="#fff" stroke="#0000ff" stroke-width="1.3"/>
<circle cx="462.96" cy="43.94" r="2.35" fill="#fff" stroke="#0000ff" stroke-width="1.3"/>
<circle cx="497.50" cy="9.30" r="2.35" fill="#fff" stroke="#0000ff" stroke-width="1.3"/>
<rect x="48.30" y="248.30" width="172.70" height="172.90" fill="none" stroke="#000" stroke-width="0.80"/>
<line x1="70.90" x2="70.90" y1="421.20" y2="424.70" stroke="#000" stroke-width="0.80"/>
<text transform="translate(63.13 436.20) scale(1.0392 1)" font-size="10.60">2.5</text>
<line x1="105.47" x2="105.47" y1="421.20" y2="424.70" stroke="#000" stroke-width="0.80"/>
<text transform="translate(97.85 436.20) scale(1.0411 1)" font-size="10.60">5.0</text>
<line x1="140.05" x2="140.05" y1="421.20" y2="424.70" stroke="#000" stroke-width="0.80"/>
<text transform="translate(132.36 436.20) scale(1.0336 1)" font-size="10.60">7.5</text>
<line x1="174.63" x2="174.63" y1="421.20" y2="424.70" stroke="#000" stroke-width="0.80"/>
<text transform="translate(163.74 436.20) scale(1.0564 1)" font-size="10.60">10.0</text>
<line x1="209.20" x2="209.20" y1="421.20" y2="424.70" stroke="#000" stroke-width="0.80"/>
<text transform="translate(198.32 436.20) scale(1.0472 1)" font-size="10.60">12.5</text>
<line x1="44.80" x2="48.30" y1="381.40" y2="381.40" stroke="#000" stroke-width="0.80"/>
<text transform="translate(21.66 385.04) scale(1.0522 1)" font-size="10.60">100</text>
<line x1="44.80" x2="48.30" y1="339.93" y2="339.93" stroke="#000" stroke-width="0.80"/>
<text transform="translate(21.58 343.57) scale(1.0569 1)" font-size="10.60">200</text>
<line x1="44.80" x2="48.30" y1="298.47" y2="298.47" stroke="#000" stroke-width="0.80"/>
<text transform="translate(21.75 302.11) scale(1.0470 1)" font-size="10.60">300</text>
<line x1="44.80" x2="48.30" y1="257.00" y2="257.00" stroke="#000" stroke-width="0.80"/>
<text transform="translate(21.65 260.64) scale(1.0532 1)" font-size="10.60">400</text>
<line x1="55.3" y1="405.3" x2="213.3" y2="255.8" stroke="#000" stroke-width="1" stroke-dasharray="3.7 1.6"/>
<circle cx="55.13" cy="413.74" r="3" fill="#ffffe5" stroke="#000" stroke-width="1"/>
<circle cx="55.69" cy="412.50" r="3" fill="#ffffe2" stroke="#000" stroke-width="1"/>
<circle cx="56.52" cy="410.43" r="3" fill="#fffede" stroke="#000" stroke-width="1"/>
<circle cx="57.35" cy="404.62" r="3" fill="#fffbd1" stroke="#000" stroke-width="1"/>
<circle cx="68.41" cy="407.32" r="3" fill="#fffdd7" stroke="#000" stroke-width="1"/>
<circle cx="62.05" cy="402.13" r="3" fill="#fffacc" stroke="#000" stroke-width="1"/>
<circle cx="83.76" cy="392.60" r="3" fill="#fff5b6" stroke="#000" stroke-width="1"/>
<circle cx="99.94" cy="378.50" r="3" fill="#ffe796" stroke="#000" stroke-width="1"/>
<circle cx="98.01" cy="370.62" r="3" fill="#ffdd7d" stroke="#000" stroke-width="1"/>
<circle cx="106.03" cy="371.86" r="3" fill="#ffdf82" stroke="#000" stroke-width="1"/>
<circle cx="97.59" cy="361.08" r="3" fill="#ffce58" stroke="#000" stroke-width="1"/>
<circle cx="119.31" cy="339.52" r="3" fill="#ffa21a" stroke="#000" stroke-width="1"/>
<circle cx="119.31" cy="337.45" r="3" fill="#ff9c12" stroke="#000" stroke-width="1"/>
<circle cx="125.39" cy="325.54" r="3" fill="#ff8400" stroke="#000" stroke-width="1"/>
<circle cx="132.17" cy="323.10" r="3" fill="#ff7d00" stroke="#000" stroke-width="1"/>
<circle cx="128.02" cy="346.98" r="3" fill="#ffb22e" stroke="#000" stroke-width="1"/>
<circle cx="129.68" cy="331.64" r="3" fill="#ff9107" stroke="#000" stroke-width="1"/>
<circle cx="136.73" cy="319.20" r="3" fill="#ff7500" stroke="#000" stroke-width="1"/>
<circle cx="132.44" cy="303.86" r="3" fill="#f55700" stroke="#000" stroke-width="1"/>
<circle cx="141.43" cy="287.27" r="3" fill="#cb3c00" stroke="#000" stroke-width="1"/>
<circle cx="145.72" cy="310.91" r="3" fill="#ff6400" stroke="#000" stroke-width="1"/>
<circle cx="146.55" cy="312.15" r="3" fill="#ff6600" stroke="#000" stroke-width="1"/>
<circle cx="165.64" cy="302.61" r="3" fill="#f35500" stroke="#000" stroke-width="1"/>
<circle cx="175.59" cy="259.07" r="3" fill="#762000" stroke="#000" stroke-width="1"/>
<circle cx="156.23" cy="290.59" r="3" fill="#d64100" stroke="#000" stroke-width="1"/>
<circle cx="167.16" cy="287.27" r="3" fill="#cb3c00" stroke="#000" stroke-width="1"/>
<circle cx="153.74" cy="314.22" r="3" fill="#ff6b00" stroke="#000" stroke-width="1"/>
<circle cx="180.02" cy="299.05" r="3" fill="#ed4d00" stroke="#000" stroke-width="1"/>
<circle cx="186.38" cy="292.04" r="3" fill="#d94300" stroke="#000" stroke-width="1"/>
<circle cx="190.81" cy="282.29" r="3" fill="#bd3600" stroke="#000" stroke-width="1"/>
<circle cx="168.13" cy="291.21" r="3" fill="#d84200" stroke="#000" stroke-width="1"/>
<circle cx="166.74" cy="292.66" r="3" fill="#db4400" stroke="#000" stroke-width="1"/>
<circle cx="188.46" cy="313.52" r="3" fill="#ff6a00" stroke="#000" stroke-width="1"/>
<circle cx="182.10" cy="297.22" r="3" fill="#e94a00" stroke="#000" stroke-width="1"/>
<circle cx="214.04" cy="275.25" r="3" fill="#a72e00" stroke="#000" stroke-width="1"/>
<circle cx="205.61" cy="290.17" r="3" fill="#d44000" stroke="#000" stroke-width="1"/>
<text transform="translate(105.92 450.20) scale(1.0774 1)" font-size="10.60">Depth (µm)</text>
<text transform="translate(15.40 353.23) rotate(-90) scale(1.0283 1)" font-size="10.60">Sdr (%)</text>
<text transform="translate(51.74 265.40) scale(1.0486 1)" font-size="14.84">(c)</text>
<circle cx="332.18" cy="414.08" r="3" fill="#0a80ca" stroke="#000" stroke-width="1"/>
<circle cx="333.59" cy="413.52" r="3" fill="#0a80ca" stroke="#000" stroke-width="1"/>
<circle cx="335.16" cy="412.69" r="3" fill="#0a80ca" stroke="#000" stroke-width="1"/>
<circle cx="336.43" cy="411.86" r="3" fill="#0a80ca" stroke="#000" stroke-width="1"/>
<circle cx="337.71" cy="400.77" r="3" fill="#0a80ca" stroke="#000" stroke-width="1"/>
<circle cx="338.70" cy="407.15" r="3" fill="#0a80ca" stroke="#000" stroke-width="1"/>
<circle cx="353.75" cy="385.38" r="3" fill="#0a80ca" stroke="#000" stroke-width="1"/>
<circle cx="357.06" cy="369.17" r="3" fill="#0a80ca" stroke="#000" stroke-width="1"/>
<circle cx="360.70" cy="371.11" r="3" fill="#0a80ca" stroke="#000" stroke-width="1"/>
<circle cx="363.68" cy="363.07" r="3" fill="#0a80ca" stroke="#000" stroke-width="1"/>
<circle cx="366.66" cy="371.52" r="3" fill="#0a80ca" stroke="#000" stroke-width="1"/>
<circle cx="368.98" cy="349.76" r="3" fill="#0a80ca" stroke="#000" stroke-width="1"/>
<circle cx="375.32" cy="349.76" r="3" fill="#0a80ca" stroke="#000" stroke-width="1"/>
<circle cx="380.52" cy="343.66" r="3" fill="#0a80ca" stroke="#000" stroke-width="1"/>
<circle cx="386.24" cy="336.87" r="3" fill="#0a80ca" stroke="#000" stroke-width="1"/>
<circle cx="390.93" cy="341.03" r="3" fill="#0a80ca" stroke="#000" stroke-width="1"/>
<circle cx="395.61" cy="339.37" r="3" fill="#0a80ca" stroke="#000" stroke-width="1"/>
<circle cx="399.25" cy="332.30" r="3" fill="#0a80ca" stroke="#000" stroke-width="1"/>
<circle cx="396.89" cy="336.59" r="3" fill="#0a80ca" stroke="#000" stroke-width="1"/>
<circle cx="403.98" cy="327.58" r="3" fill="#0a80ca" stroke="#000" stroke-width="1"/>
<circle cx="411.79" cy="323.29" r="3" fill="#0a80ca" stroke="#000" stroke-width="1"/>
<circle cx="418.18" cy="322.46" r="3" fill="#0a80ca" stroke="#000" stroke-width="1"/>
<circle cx="424.56" cy="303.33" r="3" fill="#0a80ca" stroke="#000" stroke-width="1"/>
<circle cx="429.53" cy="293.35" r="3" fill="#0a80ca" stroke="#000" stroke-width="1"/>
<circle cx="418.46" cy="312.75" r="3" fill="#0a80ca" stroke="#000" stroke-width="1"/>
<circle cx="427.45" cy="301.80" r="3" fill="#0a80ca" stroke="#000" stroke-width="1"/>
<circle cx="437.33" cy="315.25" r="3" fill="#0a80ca" stroke="#000" stroke-width="1"/>
<circle cx="445.42" cy="288.91" r="3" fill="#0a80ca" stroke="#000" stroke-width="1"/>
<circle cx="453.51" cy="282.54" r="3" fill="#0a80ca" stroke="#000" stroke-width="1"/>
<circle cx="459.80" cy="278.10" r="3" fill="#0a80ca" stroke="#000" stroke-width="1"/>
<circle cx="440.03" cy="300.83" r="3" fill="#0a80ca" stroke="#000" stroke-width="1"/>
<circle cx="450.91" cy="302.22" r="3" fill="#0a80ca" stroke="#000" stroke-width="1"/>
<circle cx="462.88" cy="280.46" r="3" fill="#0a80ca" stroke="#000" stroke-width="1"/>
<circle cx="472.67" cy="286.83" r="3" fill="#0a80ca" stroke="#000" stroke-width="1"/>
<circle cx="482.46" cy="254.81" r="3" fill="#0a80ca" stroke="#000" stroke-width="1"/>
<circle cx="490.08" cy="263.27" r="3" fill="#0a80ca" stroke="#000" stroke-width="1"/>
<polyline fill="none" stroke="#0a80ca" stroke-width="1.5" stroke-dasharray="5.55 2.4" points="332.18,413.32 334.85,409.16 337.53,405.09 340.20,401.09 342.88,397.17 345.56,393.33 348.23,389.56 350.91,385.86 353.59,382.23 356.26,378.68 358.94,375.19 361.62,371.77 364.29,368.42 366.97,365.13 369.64,361.91 372.32,358.74 375.00,355.64 377.67,352.60 380.35,349.62 383.03,346.70 385.70,343.83 388.38,341.01 391.05,338.26 393.73,335.55 396.41,332.90 399.08,330.30 401.76,327.75 404.44,325.25 407.11,322.79 409.79,320.39 412.47,318.03 415.14,315.71 417.82,313.44 420.49,311.22 423.17,309.04 425.85,306.90 428.52,304.80 431.20,302.74 433.88,300.72 436.55,298.74 439.23,296.80 441.90,294.90 444.58,293.03 447.26,291.20 449.93,289.41 452.61,287.65 455.29,285.92 457.96,284.23 460.64,282.57 463.32,280.94 465.99,279.35 468.67,277.78 471.34,276.25 474.02,274.74 476.70,273.26 479.37,271.82 482.05,270.40 484.73,269.00 487.40,267.64 490.08,266.30"/>
<circle cx="332.18" cy="406.12" r="3" fill="#ffa600" stroke="#000" stroke-width="1"/>
<circle cx="333.59" cy="404.91" r="3" fill="#ffa600" stroke="#000" stroke-width="1"/>
<circle cx="335.16" cy="402.89" r="3" fill="#ffa600" stroke="#000" stroke-width="1"/>
<circle cx="336.43" cy="397.24" r="3" fill="#ffa600" stroke="#000" stroke-width="1"/>
<circle cx="337.71" cy="399.87" r="3" fill="#ffa600" stroke="#000" stroke-width="1"/>
<circle cx="338.70" cy="394.82" r="3" fill="#ffa600" stroke="#000" stroke-width="1"/>
<circle cx="353.75" cy="385.54" r="3" fill="#ffa600" stroke="#000" stroke-width="1"/>
<circle cx="357.06" cy="371.82" r="3" fill="#ffa600" stroke="#000" stroke-width="1"/>
<circle cx="360.70" cy="364.15" r="3" fill="#ffa600" stroke="#000" stroke-width="1"/>
<circle cx="363.68" cy="365.36" r="3" fill="#ffa600" stroke="#000" stroke-width="1"/>
<circle cx="366.66" cy="354.87" r="3" fill="#ffa600" stroke="#000" stroke-width="1"/>
<circle cx="368.98" cy="333.89" r="3" fill="#ffa600" stroke="#000" stroke-width="1"/>
<circle cx="375.32" cy="331.87" r="3" fill="#ffa600" stroke="#000" stroke-width="1"/>
<circle cx="380.52" cy="320.29" r="3" fill="#ffa600" stroke="#000" stroke-width="1"/>
<circle cx="386.24" cy="317.91" r="3" fill="#ffa600" stroke="#000" stroke-width="1"/>
<circle cx="390.93" cy="341.15" r="3" fill="#ffa600" stroke="#000" stroke-width="1"/>
<circle cx="395.61" cy="326.22" r="3" fill="#ffa600" stroke="#000" stroke-width="1"/>
<circle cx="399.25" cy="314.12" r="3" fill="#ffa600" stroke="#000" stroke-width="1"/>
<circle cx="396.89" cy="299.18" r="3" fill="#ffa600" stroke="#000" stroke-width="1"/>
<circle cx="403.98" cy="283.04" r="3" fill="#ffa600" stroke="#000" stroke-width="1"/>
<circle cx="411.79" cy="306.04" r="3" fill="#ffa600" stroke="#000" stroke-width="1"/>
<circle cx="418.18" cy="307.26" r="3" fill="#ffa600" stroke="#000" stroke-width="1"/>
<circle cx="424.56" cy="297.97" r="3" fill="#ffa600" stroke="#000" stroke-width="1"/>
<circle cx="429.53" cy="255.60" r="3" fill="#ffa600" stroke="#000" stroke-width="1"/>
<circle cx="418.46" cy="286.27" r="3" fill="#ffa600" stroke="#000" stroke-width="1"/>
<circle cx="427.45" cy="283.04" r="3" fill="#ffa600" stroke="#000" stroke-width="1"/>
<circle cx="437.33" cy="309.27" r="3" fill="#ffa600" stroke="#000" stroke-width="1"/>
<circle cx="445.42" cy="294.50" r="3" fill="#ffa600" stroke="#000" stroke-width="1"/>
<circle cx="453.51" cy="287.68" r="3" fill="#ffa600" stroke="#000" stroke-width="1"/>
<circle cx="459.80" cy="278.20" r="3" fill="#ffa600" stroke="#000" stroke-width="1"/>
<circle cx="440.03" cy="286.88" r="3" fill="#ffa600" stroke="#000" stroke-width="1"/>
<circle cx="450.91" cy="288.29" r="3" fill="#ffa600" stroke="#000" stroke-width="1"/>
<circle cx="462.88" cy="308.59" r="3" fill="#ffa600" stroke="#000" stroke-width="1"/>
<circle cx="472.67" cy="292.73" r="3" fill="#ffa600" stroke="#000" stroke-width="1"/>
<circle cx="482.46" cy="271.34" r="3" fill="#ffa600" stroke="#000" stroke-width="1"/>
<circle cx="490.08" cy="285.87" r="3" fill="#ffa600" stroke="#000" stroke-width="1"/>
<polyline fill="none" stroke="#ffa600" stroke-width="1.5" stroke-dasharray="5.55 2.4" points="332.18,412.95 334.85,406.20 337.53,399.77 340.20,393.64 342.88,387.80 345.56,382.24 348.23,376.94 350.91,371.90 353.59,367.09 356.26,362.51 358.94,358.14 361.62,353.99 364.29,350.03 366.97,346.25 369.64,342.66 372.32,339.23 375.00,335.97 377.67,332.86 380.35,329.90 383.03,327.08 385.70,324.39 388.38,321.83 391.05,319.39 393.73,317.07 396.41,314.86 399.08,312.75 401.76,310.74 404.44,308.82 407.11,307.00 409.79,305.26 412.47,303.61 415.14,302.03 417.82,300.53 420.49,299.10 423.17,297.74 425.85,296.44 428.52,295.20 431.20,294.02 433.88,292.90 436.55,291.83 439.23,290.81 441.90,289.84 444.58,288.91 447.26,288.03 449.93,287.19 452.61,286.39 455.29,285.63 457.96,284.90 460.64,284.21 463.32,283.55 465.99,282.93 468.67,282.33 471.34,281.76 474.02,281.22 476.70,280.70 479.37,280.21 482.05,279.74 484.73,279.29 487.40,278.86 490.08,278.46"/>
<rect x="324.90" y="248.30" width="172.70" height="172.90" fill="none" stroke="#000" stroke-width="0.80"/>
<line x1="363.30" x2="363.30" y1="421.20" y2="424.70" stroke="#000" stroke-width="0.80"/>
<text transform="translate(357.20 436.20) scale(1.0372 1)" font-size="10.60">10</text>
<line x1="410.61" x2="410.61" y1="421.20" y2="424.70" stroke="#000" stroke-width="0.80"/>
<text transform="translate(404.42 436.20) scale(1.0447 1)" font-size="10.60">20</text>
<line x1="457.91" x2="457.91" y1="421.20" y2="424.70" stroke="#000" stroke-width="0.80"/>
<text transform="translate(451.90 436.20) scale(1.0297 1)" font-size="10.60">30</text>
<line x1="321.40" x2="324.90" y1="405.20" y2="405.20" stroke="#000" stroke-width="0.80"/>
<text transform="translate(310.96 408.84) scale(0.9586 1)" font-size="10.60">2</text>
<line x1="321.40" x2="324.90" y1="377.48" y2="377.48" stroke="#000" stroke-width="0.80"/>
<text transform="translate(310.98 381.12) scale(0.9946 1)" font-size="10.60">4</text>
<line x1="321.40" x2="324.90" y1="349.76" y2="349.76" stroke="#000" stroke-width="0.80"/>
<text transform="translate(310.88 353.40) scale(1.0293 1)" font-size="10.60">6</text>
<line x1="321.40" x2="324.90" y1="322.04" y2="322.04" stroke="#000" stroke-width="0.80"/>
<text transform="translate(310.95 325.68) scale(1.0052 1)" font-size="10.60">8</text>
<line x1="321.40" x2="324.90" y1="294.32" y2="294.32" stroke="#000" stroke-width="0.80"/>
<text transform="translate(304.64 297.96) scale(1.0372 1)" font-size="10.60">10</text>
<line x1="321.40" x2="324.90" y1="266.60" y2="266.60" stroke="#000" stroke-width="0.80"/>
<text transform="translate(304.65 270.24) scale(1.0168 1)" font-size="10.60">12</text>
<line x1="497.60" x2="501.10" y1="415.00" y2="415.00" stroke="#000" stroke-width="0.80"/>
<text transform="translate(504.85 418.64) scale(0.9945 1)" font-size="10.60">0</text>
<line x1="497.60" x2="501.10" y1="374.64" y2="374.64" stroke="#000" stroke-width="0.80"/>
<text transform="translate(504.85 378.28) scale(1.0522 1)" font-size="10.60">100</text>
<line x1="497.60" x2="501.10" y1="334.29" y2="334.29" stroke="#000" stroke-width="0.80"/>
<text transform="translate(504.77 337.93) scale(1.0569 1)" font-size="10.60">200</text>
<line x1="497.60" x2="501.10" y1="293.94" y2="293.94" stroke="#000" stroke-width="0.80"/>
<text transform="translate(504.94 297.58) scale(1.0470 1)" font-size="10.60">300</text>
<line x1="497.60" x2="501.10" y1="253.59" y2="253.59" stroke="#000" stroke-width="0.80"/>
<text transform="translate(504.83 257.23) scale(1.0532 1)" font-size="10.60">400</text>
<text transform="translate(330.73 451.20) scale(1.0721 1)" font-size="10.60">Cumulated fluence,</text>
<text transform="translate(431.79 451.20) scale(0.9306 1)" font-size="10.60">Φ</text>
<text transform="translate(439.82 452.84) scale(1.0650 1)" font-size="7.42" font-style="italic">cum</text>
<text transform="translate(458.52 451.20) scale(1.0000 1)" font-size="10.60">(J/cm²)</text>
<text transform="translate(298.40 363.48) rotate(-90) scale(1.0774 1)" font-size="10.60">Depth (µm)</text>
<text transform="translate(535.70 353.23) rotate(-90) scale(1.0283 1)" font-size="10.60">Sdr (%)</text>
<text transform="translate(328.32 265.40) scale(1.0680 1)" font-size="14.84">(d)</text>
<rect x="426.2" y="383.2" width="66.4" height="33" rx="2.5" fill="#fff" fill-opacity="0.8" stroke="#cccccc" stroke-width="1"/>
<circle cx="440" cy="391.6" r="3" fill="#0a80ca" stroke="#000" stroke-width="1"/>
<circle cx="440" cy="406.5" r="3" fill="#ffa600" stroke="#000" stroke-width="1"/>
<text transform="translate(458.25 395.20) scale(1.0711 1)" font-size="10.60">Depth</text>
<text transform="translate(458.37 410.20) scale(1.0195 1)" font-size="10.60">Sdr</text>
</svg>
</body></html>
